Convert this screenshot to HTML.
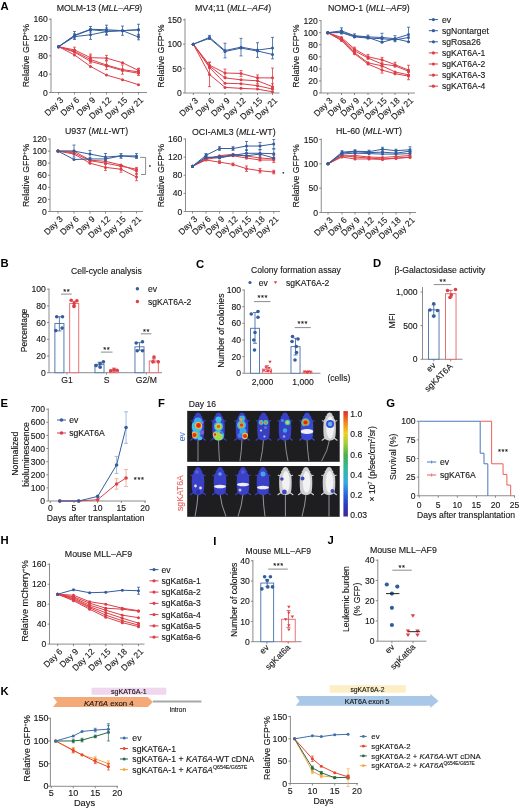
<!DOCTYPE html>
<html><head><meta charset="utf-8"><style>
html,body{margin:0;padding:0;background:#fff;}
svg{display:block;font-family:"Liberation Sans",Arial,Helvetica,sans-serif;}
</style></head><body>
<svg width="520" height="808" viewBox="0 0 520 808">
<rect width="520" height="808" fill="#fff"/>
<text x="0.60" y="9.50" font-size="11.3" fill="#000" font-weight="bold">A</text>
<text x="56.70" y="11.40" font-size="8.8" fill="#151515" stroke="#151515" stroke-width="0.12">MOLM-13 (<tspan font-style="italic">MLL–AF9</tspan>)</text>
<line x1="51.00" y1="92.50" x2="51.00" y2="18.50" stroke="#6d6e71" stroke-width="0.8" />
<line x1="49.00" y1="92.50" x2="51.00" y2="92.50" stroke="#6d6e71" stroke-width="0.8" />
<text x="47.80" y="95.60" font-size="8.6" fill="#151515" stroke="#151515" stroke-width="0.12" text-anchor="end">0</text>
<line x1="49.00" y1="74.17" x2="51.00" y2="74.17" stroke="#6d6e71" stroke-width="0.8" />
<text x="47.80" y="77.27" font-size="8.6" fill="#151515" stroke="#151515" stroke-width="0.12" text-anchor="end">40</text>
<line x1="49.00" y1="55.85" x2="51.00" y2="55.85" stroke="#6d6e71" stroke-width="0.8" />
<text x="47.80" y="58.95" font-size="8.6" fill="#151515" stroke="#151515" stroke-width="0.12" text-anchor="end">80</text>
<line x1="49.00" y1="37.52" x2="51.00" y2="37.52" stroke="#6d6e71" stroke-width="0.8" />
<text x="47.80" y="40.62" font-size="8.6" fill="#151515" stroke="#151515" stroke-width="0.12" text-anchor="end">120</text>
<line x1="49.00" y1="19.20" x2="51.00" y2="19.20" stroke="#6d6e71" stroke-width="0.8" />
<text x="47.80" y="22.30" font-size="8.6" fill="#151515" stroke="#151515" stroke-width="0.12" text-anchor="end">160</text>
<line x1="51.00" y1="92.50" x2="147.00" y2="92.50" stroke="#6d6e71" stroke-width="0.8" />
<line x1="58.60" y1="92.50" x2="58.60" y2="94.50" stroke="#6d6e71" stroke-width="0.8" />
<text transform="translate(63.90,100.60) rotate(-45)" font-size="8.6" fill="#151515" stroke="#151515" stroke-width="0.12" text-anchor="end">Day 3</text>
<line x1="74.50" y1="92.50" x2="74.50" y2="94.50" stroke="#6d6e71" stroke-width="0.8" />
<text transform="translate(79.80,100.60) rotate(-45)" font-size="8.6" fill="#151515" stroke="#151515" stroke-width="0.12" text-anchor="end">Day 6</text>
<line x1="90.50" y1="92.50" x2="90.50" y2="94.50" stroke="#6d6e71" stroke-width="0.8" />
<text transform="translate(95.80,100.60) rotate(-45)" font-size="8.6" fill="#151515" stroke="#151515" stroke-width="0.12" text-anchor="end">Day 9</text>
<line x1="106.50" y1="92.50" x2="106.50" y2="94.50" stroke="#6d6e71" stroke-width="0.8" />
<text transform="translate(111.80,100.60) rotate(-45)" font-size="8.6" fill="#151515" stroke="#151515" stroke-width="0.12" text-anchor="end">Day 12</text>
<line x1="122.50" y1="92.50" x2="122.50" y2="94.50" stroke="#6d6e71" stroke-width="0.8" />
<text transform="translate(127.80,100.60) rotate(-45)" font-size="8.6" fill="#151515" stroke="#151515" stroke-width="0.12" text-anchor="end">Day 15</text>
<line x1="138.50" y1="92.50" x2="138.50" y2="94.50" stroke="#6d6e71" stroke-width="0.8" />
<text transform="translate(143.80,100.60) rotate(-45)" font-size="8.6" fill="#151515" stroke="#151515" stroke-width="0.12" text-anchor="end">Day 21</text>
<polyline points="58.60,46.69 74.50,49.89 90.50,57.68 106.50,58.14 122.50,62.72 138.50,70.51" fill="none" stroke="#dc3f48" stroke-width="1.0" stroke-linejoin="round" />
<line x1="74.50" y1="47.15" x2="74.50" y2="52.64" stroke="#dc3f48" stroke-width="0.8" />
<line x1="73.00" y1="47.15" x2="76.00" y2="47.15" stroke="#dc3f48" stroke-width="0.8" />
<line x1="73.00" y1="52.64" x2="76.00" y2="52.64" stroke="#dc3f48" stroke-width="0.8" />
<line x1="90.50" y1="54.02" x2="90.50" y2="61.35" stroke="#dc3f48" stroke-width="0.8" />
<line x1="89.00" y1="54.02" x2="92.00" y2="54.02" stroke="#dc3f48" stroke-width="0.8" />
<line x1="89.00" y1="61.35" x2="92.00" y2="61.35" stroke="#dc3f48" stroke-width="0.8" />
<line x1="106.50" y1="55.39" x2="106.50" y2="60.89" stroke="#dc3f48" stroke-width="0.8" />
<line x1="105.00" y1="55.39" x2="108.00" y2="55.39" stroke="#dc3f48" stroke-width="0.8" />
<line x1="105.00" y1="60.89" x2="108.00" y2="60.89" stroke="#dc3f48" stroke-width="0.8" />
<line x1="138.50" y1="68.68" x2="138.50" y2="72.34" stroke="#dc3f48" stroke-width="0.8" />
<line x1="137.00" y1="68.68" x2="140.00" y2="68.68" stroke="#dc3f48" stroke-width="0.8" />
<line x1="137.00" y1="72.34" x2="140.00" y2="72.34" stroke="#dc3f48" stroke-width="0.8" />
<circle cx="58.60" cy="46.69" r="1.5" fill="#dc3f48" />
<circle cx="74.50" cy="49.89" r="1.5" fill="#dc3f48" />
<circle cx="90.50" cy="57.68" r="1.5" fill="#dc3f48" />
<circle cx="106.50" cy="58.14" r="1.5" fill="#dc3f48" />
<circle cx="122.50" cy="62.72" r="1.5" fill="#dc3f48" />
<circle cx="138.50" cy="70.51" r="1.5" fill="#dc3f48" />
<polyline points="58.60,46.69 74.50,51.27 90.50,59.52 106.50,65.01 122.50,69.59 138.50,71.88" fill="none" stroke="#dc3f48" stroke-width="1.0" stroke-linejoin="round" />
<line x1="90.50" y1="55.85" x2="90.50" y2="63.18" stroke="#dc3f48" stroke-width="0.8" />
<line x1="89.00" y1="55.85" x2="92.00" y2="55.85" stroke="#dc3f48" stroke-width="0.8" />
<line x1="89.00" y1="63.18" x2="92.00" y2="63.18" stroke="#dc3f48" stroke-width="0.8" />
<line x1="106.50" y1="60.43" x2="106.50" y2="69.59" stroke="#dc3f48" stroke-width="0.8" />
<line x1="105.00" y1="60.43" x2="108.00" y2="60.43" stroke="#dc3f48" stroke-width="0.8" />
<line x1="105.00" y1="69.59" x2="108.00" y2="69.59" stroke="#dc3f48" stroke-width="0.8" />
<line x1="122.50" y1="65.01" x2="122.50" y2="74.17" stroke="#dc3f48" stroke-width="0.8" />
<line x1="121.00" y1="65.01" x2="124.00" y2="65.01" stroke="#dc3f48" stroke-width="0.8" />
<line x1="121.00" y1="74.17" x2="124.00" y2="74.17" stroke="#dc3f48" stroke-width="0.8" />
<line x1="138.50" y1="68.22" x2="138.50" y2="75.55" stroke="#dc3f48" stroke-width="0.8" />
<line x1="137.00" y1="68.22" x2="140.00" y2="68.22" stroke="#dc3f48" stroke-width="0.8" />
<line x1="137.00" y1="75.55" x2="140.00" y2="75.55" stroke="#dc3f48" stroke-width="0.8" />
<circle cx="58.60" cy="46.69" r="1.5" fill="#dc3f48" />
<circle cx="74.50" cy="51.27" r="1.5" fill="#dc3f48" />
<circle cx="90.50" cy="59.52" r="1.5" fill="#dc3f48" />
<circle cx="106.50" cy="65.01" r="1.5" fill="#dc3f48" />
<circle cx="122.50" cy="69.59" r="1.5" fill="#dc3f48" />
<circle cx="138.50" cy="71.88" r="1.5" fill="#dc3f48" />
<polyline points="58.60,46.69 74.50,52.19 90.50,61.35 106.50,65.93 122.50,70.51 138.50,73.26" fill="none" stroke="#dc3f48" stroke-width="1.0" stroke-linejoin="round" />
<circle cx="58.60" cy="46.69" r="1.5" fill="#dc3f48" />
<circle cx="74.50" cy="52.19" r="1.5" fill="#dc3f48" />
<circle cx="90.50" cy="61.35" r="1.5" fill="#dc3f48" />
<circle cx="106.50" cy="65.93" r="1.5" fill="#dc3f48" />
<circle cx="122.50" cy="70.51" r="1.5" fill="#dc3f48" />
<circle cx="138.50" cy="73.26" r="1.5" fill="#dc3f48" />
<polyline points="58.60,46.69 74.50,54.93 90.50,66.39 106.50,75.09 122.50,79.67 138.50,84.71" fill="none" stroke="#dc3f48" stroke-width="1.0" stroke-linejoin="round" />
<circle cx="58.60" cy="46.69" r="1.5" fill="#dc3f48" />
<circle cx="74.50" cy="54.93" r="1.5" fill="#dc3f48" />
<circle cx="90.50" cy="66.39" r="1.5" fill="#dc3f48" />
<circle cx="106.50" cy="75.09" r="1.5" fill="#dc3f48" />
<circle cx="122.50" cy="79.67" r="1.5" fill="#dc3f48" />
<circle cx="138.50" cy="84.71" r="1.5" fill="#dc3f48" />
<polyline points="58.60,46.69 74.50,35.23 90.50,29.28 106.50,29.74 122.50,30.65 138.50,29.74" fill="none" stroke="#345d9d" stroke-width="1.0" stroke-linejoin="round" />
<line x1="74.50" y1="31.57" x2="74.50" y2="38.90" stroke="#345d9d" stroke-width="0.8" />
<line x1="73.00" y1="31.57" x2="76.00" y2="31.57" stroke="#345d9d" stroke-width="0.8" />
<line x1="73.00" y1="38.90" x2="76.00" y2="38.90" stroke="#345d9d" stroke-width="0.8" />
<line x1="90.50" y1="26.53" x2="90.50" y2="32.03" stroke="#345d9d" stroke-width="0.8" />
<line x1="89.00" y1="26.53" x2="92.00" y2="26.53" stroke="#345d9d" stroke-width="0.8" />
<line x1="89.00" y1="32.03" x2="92.00" y2="32.03" stroke="#345d9d" stroke-width="0.8" />
<line x1="106.50" y1="25.16" x2="106.50" y2="34.32" stroke="#345d9d" stroke-width="0.8" />
<line x1="105.00" y1="25.16" x2="108.00" y2="25.16" stroke="#345d9d" stroke-width="0.8" />
<line x1="105.00" y1="34.32" x2="108.00" y2="34.32" stroke="#345d9d" stroke-width="0.8" />
<line x1="122.50" y1="26.07" x2="122.50" y2="35.23" stroke="#345d9d" stroke-width="0.8" />
<line x1="121.00" y1="26.07" x2="124.00" y2="26.07" stroke="#345d9d" stroke-width="0.8" />
<line x1="121.00" y1="35.23" x2="124.00" y2="35.23" stroke="#345d9d" stroke-width="0.8" />
<line x1="138.50" y1="24.24" x2="138.50" y2="35.23" stroke="#345d9d" stroke-width="0.8" />
<line x1="137.00" y1="24.24" x2="140.00" y2="24.24" stroke="#345d9d" stroke-width="0.8" />
<line x1="137.00" y1="35.23" x2="140.00" y2="35.23" stroke="#345d9d" stroke-width="0.8" />
<circle cx="58.60" cy="46.69" r="1.5" fill="#345d9d" />
<circle cx="74.50" cy="35.23" r="1.5" fill="#345d9d" />
<circle cx="90.50" cy="29.28" r="1.5" fill="#345d9d" />
<circle cx="106.50" cy="29.74" r="1.5" fill="#345d9d" />
<circle cx="122.50" cy="30.65" r="1.5" fill="#345d9d" />
<circle cx="138.50" cy="29.74" r="1.5" fill="#345d9d" />
<polyline points="58.60,46.69 74.50,36.61 90.50,34.78 106.50,31.57 122.50,30.65 138.50,37.07" fill="none" stroke="#345d9d" stroke-width="1.0" stroke-linejoin="round" />
<line x1="74.50" y1="33.86" x2="74.50" y2="39.36" stroke="#345d9d" stroke-width="0.8" />
<line x1="73.00" y1="33.86" x2="76.00" y2="33.86" stroke="#345d9d" stroke-width="0.8" />
<line x1="73.00" y1="39.36" x2="76.00" y2="39.36" stroke="#345d9d" stroke-width="0.8" />
<line x1="90.50" y1="30.20" x2="90.50" y2="39.36" stroke="#345d9d" stroke-width="0.8" />
<line x1="89.00" y1="30.20" x2="92.00" y2="30.20" stroke="#345d9d" stroke-width="0.8" />
<line x1="89.00" y1="39.36" x2="92.00" y2="39.36" stroke="#345d9d" stroke-width="0.8" />
<line x1="106.50" y1="27.90" x2="106.50" y2="35.23" stroke="#345d9d" stroke-width="0.8" />
<line x1="105.00" y1="27.90" x2="108.00" y2="27.90" stroke="#345d9d" stroke-width="0.8" />
<line x1="105.00" y1="35.23" x2="108.00" y2="35.23" stroke="#345d9d" stroke-width="0.8" />
<line x1="138.50" y1="34.32" x2="138.50" y2="39.82" stroke="#345d9d" stroke-width="0.8" />
<line x1="137.00" y1="34.32" x2="140.00" y2="34.32" stroke="#345d9d" stroke-width="0.8" />
<line x1="137.00" y1="39.82" x2="140.00" y2="39.82" stroke="#345d9d" stroke-width="0.8" />
<circle cx="58.60" cy="46.69" r="1.5" fill="#345d9d" />
<circle cx="74.50" cy="36.61" r="1.5" fill="#345d9d" />
<circle cx="90.50" cy="34.78" r="1.5" fill="#345d9d" />
<circle cx="106.50" cy="31.57" r="1.5" fill="#345d9d" />
<circle cx="122.50" cy="30.65" r="1.5" fill="#345d9d" />
<circle cx="138.50" cy="37.07" r="1.5" fill="#345d9d" />
<polyline points="58.60,46.69 74.50,35.69 90.50,29.74 106.50,31.11 122.50,30.65 138.50,29.74" fill="none" stroke="#345d9d" stroke-width="1.0" stroke-linejoin="round" />
<circle cx="58.60" cy="46.69" r="1.5" fill="#345d9d" />
<circle cx="74.50" cy="35.69" r="1.5" fill="#345d9d" />
<circle cx="90.50" cy="29.74" r="1.5" fill="#345d9d" />
<circle cx="106.50" cy="31.11" r="1.5" fill="#345d9d" />
<circle cx="122.50" cy="30.65" r="1.5" fill="#345d9d" />
<circle cx="138.50" cy="29.74" r="1.5" fill="#345d9d" />
<text transform="translate(29.00,55.60) rotate(-90)" font-size="8.8" fill="#151515" stroke="#151515" stroke-width="0.12" text-anchor="middle">Relative GFP<tspan font-size="5.5" dy="-3">+</tspan><tspan dy="3">%</tspan></text>
<text x="195.00" y="11.40" font-size="8.8" fill="#151515" stroke="#151515" stroke-width="0.12">MV4;11 (<tspan font-style="italic">MLL–AF4</tspan>)</text>
<line x1="185.00" y1="93.00" x2="185.00" y2="18.50" stroke="#6d6e71" stroke-width="0.8" />
<line x1="183.00" y1="93.00" x2="185.00" y2="93.00" stroke="#6d6e71" stroke-width="0.8" />
<text x="181.80" y="96.10" font-size="8.6" fill="#151515" stroke="#151515" stroke-width="0.12" text-anchor="end">0</text>
<line x1="183.00" y1="68.60" x2="185.00" y2="68.60" stroke="#6d6e71" stroke-width="0.8" />
<text x="181.80" y="71.70" font-size="8.6" fill="#151515" stroke="#151515" stroke-width="0.12" text-anchor="end">50</text>
<line x1="183.00" y1="44.20" x2="185.00" y2="44.20" stroke="#6d6e71" stroke-width="0.8" />
<text x="181.80" y="47.30" font-size="8.6" fill="#151515" stroke="#151515" stroke-width="0.12" text-anchor="end">100</text>
<line x1="183.00" y1="19.80" x2="185.00" y2="19.80" stroke="#6d6e71" stroke-width="0.8" />
<text x="181.80" y="22.90" font-size="8.6" fill="#151515" stroke="#151515" stroke-width="0.12" text-anchor="end">150</text>
<line x1="185.00" y1="93.00" x2="279.50" y2="93.00" stroke="#6d6e71" stroke-width="0.8" />
<line x1="193.30" y1="93.00" x2="193.30" y2="95.00" stroke="#6d6e71" stroke-width="0.8" />
<text transform="translate(198.60,101.10) rotate(-45)" font-size="8.6" fill="#151515" stroke="#151515" stroke-width="0.12" text-anchor="end">Day 3</text>
<line x1="209.50" y1="93.00" x2="209.50" y2="95.00" stroke="#6d6e71" stroke-width="0.8" />
<text transform="translate(214.80,101.10) rotate(-45)" font-size="8.6" fill="#151515" stroke="#151515" stroke-width="0.12" text-anchor="end">Day 6</text>
<line x1="225.00" y1="93.00" x2="225.00" y2="95.00" stroke="#6d6e71" stroke-width="0.8" />
<text transform="translate(230.30,101.10) rotate(-45)" font-size="8.6" fill="#151515" stroke="#151515" stroke-width="0.12" text-anchor="end">Day 9</text>
<line x1="241.00" y1="93.00" x2="241.00" y2="95.00" stroke="#6d6e71" stroke-width="0.8" />
<text transform="translate(246.30,101.10) rotate(-45)" font-size="8.6" fill="#151515" stroke="#151515" stroke-width="0.12" text-anchor="end">Day 12</text>
<line x1="257.50" y1="93.00" x2="257.50" y2="95.00" stroke="#6d6e71" stroke-width="0.8" />
<text transform="translate(262.80,101.10) rotate(-45)" font-size="8.6" fill="#151515" stroke="#151515" stroke-width="0.12" text-anchor="end">Day 15</text>
<line x1="272.50" y1="93.00" x2="272.50" y2="95.00" stroke="#6d6e71" stroke-width="0.8" />
<text transform="translate(277.80,101.10) rotate(-45)" font-size="8.6" fill="#151515" stroke="#151515" stroke-width="0.12" text-anchor="end">Day 21</text>
<polyline points="193.30,44.20 209.50,65.18 225.00,72.99 241.00,73.48 257.50,77.87 272.50,77.87" fill="none" stroke="#dc3f48" stroke-width="1.0" stroke-linejoin="round" />
<line x1="209.50" y1="62.26" x2="209.50" y2="68.11" stroke="#dc3f48" stroke-width="0.8" />
<line x1="208.00" y1="62.26" x2="211.00" y2="62.26" stroke="#dc3f48" stroke-width="0.8" />
<line x1="208.00" y1="68.11" x2="211.00" y2="68.11" stroke="#dc3f48" stroke-width="0.8" />
<line x1="225.00" y1="69.09" x2="225.00" y2="76.90" stroke="#dc3f48" stroke-width="0.8" />
<line x1="223.50" y1="69.09" x2="226.50" y2="69.09" stroke="#dc3f48" stroke-width="0.8" />
<line x1="223.50" y1="76.90" x2="226.50" y2="76.90" stroke="#dc3f48" stroke-width="0.8" />
<line x1="241.00" y1="70.55" x2="241.00" y2="76.41" stroke="#dc3f48" stroke-width="0.8" />
<line x1="239.50" y1="70.55" x2="242.50" y2="70.55" stroke="#dc3f48" stroke-width="0.8" />
<line x1="239.50" y1="76.41" x2="242.50" y2="76.41" stroke="#dc3f48" stroke-width="0.8" />
<line x1="257.50" y1="74.94" x2="257.50" y2="80.80" stroke="#dc3f48" stroke-width="0.8" />
<line x1="256.00" y1="74.94" x2="259.00" y2="74.94" stroke="#dc3f48" stroke-width="0.8" />
<line x1="256.00" y1="80.80" x2="259.00" y2="80.80" stroke="#dc3f48" stroke-width="0.8" />
<line x1="272.50" y1="68.11" x2="272.50" y2="87.63" stroke="#dc3f48" stroke-width="0.8" />
<line x1="271.00" y1="68.11" x2="274.00" y2="68.11" stroke="#dc3f48" stroke-width="0.8" />
<line x1="271.00" y1="87.63" x2="274.00" y2="87.63" stroke="#dc3f48" stroke-width="0.8" />
<circle cx="193.30" cy="44.20" r="1.5" fill="#dc3f48" />
<circle cx="209.50" cy="65.18" r="1.5" fill="#dc3f48" />
<circle cx="225.00" cy="72.99" r="1.5" fill="#dc3f48" />
<circle cx="241.00" cy="73.48" r="1.5" fill="#dc3f48" />
<circle cx="257.50" cy="77.87" r="1.5" fill="#dc3f48" />
<circle cx="272.50" cy="77.87" r="1.5" fill="#dc3f48" />
<polyline points="193.30,44.20 209.50,66.16 225.00,77.87 241.00,79.82 257.50,80.80 272.50,86.66" fill="none" stroke="#dc3f48" stroke-width="1.0" stroke-linejoin="round" />
<line x1="257.50" y1="77.87" x2="257.50" y2="83.73" stroke="#dc3f48" stroke-width="0.8" />
<line x1="256.00" y1="77.87" x2="259.00" y2="77.87" stroke="#dc3f48" stroke-width="0.8" />
<line x1="256.00" y1="83.73" x2="259.00" y2="83.73" stroke="#dc3f48" stroke-width="0.8" />
<line x1="272.50" y1="83.73" x2="272.50" y2="89.58" stroke="#dc3f48" stroke-width="0.8" />
<line x1="271.00" y1="83.73" x2="274.00" y2="83.73" stroke="#dc3f48" stroke-width="0.8" />
<line x1="271.00" y1="89.58" x2="274.00" y2="89.58" stroke="#dc3f48" stroke-width="0.8" />
<circle cx="193.30" cy="44.20" r="1.5" fill="#dc3f48" />
<circle cx="209.50" cy="66.16" r="1.5" fill="#dc3f48" />
<circle cx="225.00" cy="77.87" r="1.5" fill="#dc3f48" />
<circle cx="241.00" cy="79.82" r="1.5" fill="#dc3f48" />
<circle cx="257.50" cy="80.80" r="1.5" fill="#dc3f48" />
<circle cx="272.50" cy="86.66" r="1.5" fill="#dc3f48" />
<polyline points="193.30,44.20 209.50,67.62 225.00,83.24 241.00,83.73 257.50,85.68 272.50,89.10" fill="none" stroke="#dc3f48" stroke-width="1.0" stroke-linejoin="round" />
<circle cx="193.30" cy="44.20" r="1.5" fill="#dc3f48" />
<circle cx="209.50" cy="67.62" r="1.5" fill="#dc3f48" />
<circle cx="225.00" cy="83.24" r="1.5" fill="#dc3f48" />
<circle cx="241.00" cy="83.73" r="1.5" fill="#dc3f48" />
<circle cx="257.50" cy="85.68" r="1.5" fill="#dc3f48" />
<circle cx="272.50" cy="89.10" r="1.5" fill="#dc3f48" />
<polyline points="193.30,44.20 209.50,74.46 225.00,87.39 241.00,88.36 257.50,89.10 272.50,91.78" fill="none" stroke="#dc3f48" stroke-width="1.0" stroke-linejoin="round" />
<line x1="209.50" y1="62.26" x2="209.50" y2="86.66" stroke="#dc3f48" stroke-width="0.8" />
<line x1="208.00" y1="62.26" x2="211.00" y2="62.26" stroke="#dc3f48" stroke-width="0.8" />
<line x1="208.00" y1="86.66" x2="211.00" y2="86.66" stroke="#dc3f48" stroke-width="0.8" />
<circle cx="193.30" cy="44.20" r="1.5" fill="#dc3f48" />
<circle cx="209.50" cy="74.46" r="1.5" fill="#dc3f48" />
<circle cx="225.00" cy="87.39" r="1.5" fill="#dc3f48" />
<circle cx="241.00" cy="88.36" r="1.5" fill="#dc3f48" />
<circle cx="257.50" cy="89.10" r="1.5" fill="#dc3f48" />
<circle cx="272.50" cy="91.78" r="1.5" fill="#dc3f48" />
<polyline points="193.30,44.20 209.50,37.37 225.00,50.54 241.00,47.13 257.50,50.06 272.50,48.10" fill="none" stroke="#345d9d" stroke-width="1.0" stroke-linejoin="round" />
<line x1="209.50" y1="35.42" x2="209.50" y2="39.32" stroke="#345d9d" stroke-width="0.8" />
<line x1="208.00" y1="35.42" x2="211.00" y2="35.42" stroke="#345d9d" stroke-width="0.8" />
<line x1="208.00" y1="39.32" x2="211.00" y2="39.32" stroke="#345d9d" stroke-width="0.8" />
<line x1="225.00" y1="43.22" x2="225.00" y2="57.86" stroke="#345d9d" stroke-width="0.8" />
<line x1="223.50" y1="43.22" x2="226.50" y2="43.22" stroke="#345d9d" stroke-width="0.8" />
<line x1="223.50" y1="57.86" x2="226.50" y2="57.86" stroke="#345d9d" stroke-width="0.8" />
<line x1="241.00" y1="38.34" x2="241.00" y2="55.91" stroke="#345d9d" stroke-width="0.8" />
<line x1="239.50" y1="38.34" x2="242.50" y2="38.34" stroke="#345d9d" stroke-width="0.8" />
<line x1="239.50" y1="55.91" x2="242.50" y2="55.91" stroke="#345d9d" stroke-width="0.8" />
<line x1="257.50" y1="42.74" x2="257.50" y2="57.38" stroke="#345d9d" stroke-width="0.8" />
<line x1="256.00" y1="42.74" x2="259.00" y2="42.74" stroke="#345d9d" stroke-width="0.8" />
<line x1="256.00" y1="57.38" x2="259.00" y2="57.38" stroke="#345d9d" stroke-width="0.8" />
<line x1="272.50" y1="37.37" x2="272.50" y2="58.84" stroke="#345d9d" stroke-width="0.8" />
<line x1="271.00" y1="37.37" x2="274.00" y2="37.37" stroke="#345d9d" stroke-width="0.8" />
<line x1="271.00" y1="58.84" x2="274.00" y2="58.84" stroke="#345d9d" stroke-width="0.8" />
<circle cx="193.30" cy="44.20" r="1.5" fill="#345d9d" />
<circle cx="209.50" cy="37.37" r="1.5" fill="#345d9d" />
<circle cx="225.00" cy="50.54" r="1.5" fill="#345d9d" />
<circle cx="241.00" cy="47.13" r="1.5" fill="#345d9d" />
<circle cx="257.50" cy="50.06" r="1.5" fill="#345d9d" />
<circle cx="272.50" cy="48.10" r="1.5" fill="#345d9d" />
<polyline points="193.30,44.20 209.50,38.34 225.00,51.52 241.00,48.10 257.50,51.03 272.50,54.45" fill="none" stroke="#345d9d" stroke-width="1.0" stroke-linejoin="round" />
<circle cx="193.30" cy="44.20" r="1.5" fill="#345d9d" />
<circle cx="209.50" cy="38.34" r="1.5" fill="#345d9d" />
<circle cx="225.00" cy="51.52" r="1.5" fill="#345d9d" />
<circle cx="241.00" cy="48.10" r="1.5" fill="#345d9d" />
<circle cx="257.50" cy="51.03" r="1.5" fill="#345d9d" />
<circle cx="272.50" cy="54.45" r="1.5" fill="#345d9d" />
<text transform="translate(163.80,56.00) rotate(-90)" font-size="8.8" fill="#151515" stroke="#151515" stroke-width="0.12" text-anchor="middle">Relative GFP<tspan font-size="5.5" dy="-3">+</tspan><tspan dy="3">%</tspan></text>
<text x="328.00" y="11.40" font-size="8.8" fill="#151515" stroke="#151515" stroke-width="0.12">NOMO-1 (<tspan font-style="italic">MLL–AF9</tspan>)</text>
<line x1="321.00" y1="93.00" x2="321.00" y2="20.00" stroke="#6d6e71" stroke-width="0.8" />
<line x1="319.00" y1="93.00" x2="321.00" y2="93.00" stroke="#6d6e71" stroke-width="0.8" />
<text x="317.80" y="96.10" font-size="8.6" fill="#151515" stroke="#151515" stroke-width="0.12" text-anchor="end">0</text>
<line x1="319.00" y1="80.93" x2="321.00" y2="80.93" stroke="#6d6e71" stroke-width="0.8" />
<text x="317.80" y="84.03" font-size="8.6" fill="#151515" stroke="#151515" stroke-width="0.12" text-anchor="end">20</text>
<line x1="319.00" y1="68.87" x2="321.00" y2="68.87" stroke="#6d6e71" stroke-width="0.8" />
<text x="317.80" y="71.97" font-size="8.6" fill="#151515" stroke="#151515" stroke-width="0.12" text-anchor="end">40</text>
<line x1="319.00" y1="56.80" x2="321.00" y2="56.80" stroke="#6d6e71" stroke-width="0.8" />
<text x="317.80" y="59.90" font-size="8.6" fill="#151515" stroke="#151515" stroke-width="0.12" text-anchor="end">60</text>
<line x1="319.00" y1="44.73" x2="321.00" y2="44.73" stroke="#6d6e71" stroke-width="0.8" />
<text x="317.80" y="47.83" font-size="8.6" fill="#151515" stroke="#151515" stroke-width="0.12" text-anchor="end">80</text>
<line x1="319.00" y1="32.67" x2="321.00" y2="32.67" stroke="#6d6e71" stroke-width="0.8" />
<text x="317.80" y="35.77" font-size="8.6" fill="#151515" stroke="#151515" stroke-width="0.12" text-anchor="end">100</text>
<line x1="319.00" y1="20.60" x2="321.00" y2="20.60" stroke="#6d6e71" stroke-width="0.8" />
<text x="317.80" y="23.70" font-size="8.6" fill="#151515" stroke="#151515" stroke-width="0.12" text-anchor="end">120</text>
<line x1="321.00" y1="93.00" x2="415.00" y2="93.00" stroke="#6d6e71" stroke-width="0.8" />
<line x1="327.80" y1="93.00" x2="327.80" y2="95.00" stroke="#6d6e71" stroke-width="0.8" />
<text transform="translate(333.10,101.10) rotate(-45)" font-size="8.6" fill="#151515" stroke="#151515" stroke-width="0.12" text-anchor="end">Day 3</text>
<line x1="341.50" y1="93.00" x2="341.50" y2="95.00" stroke="#6d6e71" stroke-width="0.8" />
<text transform="translate(346.80,101.10) rotate(-45)" font-size="8.6" fill="#151515" stroke="#151515" stroke-width="0.12" text-anchor="end">Day 6</text>
<line x1="354.50" y1="93.00" x2="354.50" y2="95.00" stroke="#6d6e71" stroke-width="0.8" />
<text transform="translate(359.80,101.10) rotate(-45)" font-size="8.6" fill="#151515" stroke="#151515" stroke-width="0.12" text-anchor="end">Day 9</text>
<line x1="368.00" y1="93.00" x2="368.00" y2="95.00" stroke="#6d6e71" stroke-width="0.8" />
<text transform="translate(373.30,101.10) rotate(-45)" font-size="8.6" fill="#151515" stroke="#151515" stroke-width="0.12" text-anchor="end">Day 12</text>
<line x1="382.00" y1="93.00" x2="382.00" y2="95.00" stroke="#6d6e71" stroke-width="0.8" />
<text transform="translate(387.30,101.10) rotate(-45)" font-size="8.6" fill="#151515" stroke="#151515" stroke-width="0.12" text-anchor="end">Day 15</text>
<line x1="395.00" y1="93.00" x2="395.00" y2="95.00" stroke="#6d6e71" stroke-width="0.8" />
<text transform="translate(400.30,101.10) rotate(-45)" font-size="8.6" fill="#151515" stroke="#151515" stroke-width="0.12" text-anchor="end">Day 18</text>
<line x1="408.50" y1="93.00" x2="408.50" y2="95.00" stroke="#6d6e71" stroke-width="0.8" />
<text transform="translate(413.80,101.10) rotate(-45)" font-size="8.6" fill="#151515" stroke="#151515" stroke-width="0.12" text-anchor="end">Day 21</text>
<polyline points="327.80,32.67 341.50,37.49 354.50,48.96 368.00,56.80 382.00,59.82 395.00,64.64 408.50,70.07" fill="none" stroke="#dc3f48" stroke-width="1.0" stroke-linejoin="round" />
<line x1="354.50" y1="47.15" x2="354.50" y2="50.77" stroke="#dc3f48" stroke-width="0.8" />
<line x1="353.00" y1="47.15" x2="356.00" y2="47.15" stroke="#dc3f48" stroke-width="0.8" />
<line x1="353.00" y1="50.77" x2="356.00" y2="50.77" stroke="#dc3f48" stroke-width="0.8" />
<line x1="368.00" y1="54.39" x2="368.00" y2="59.21" stroke="#dc3f48" stroke-width="0.8" />
<line x1="366.50" y1="54.39" x2="369.50" y2="54.39" stroke="#dc3f48" stroke-width="0.8" />
<line x1="366.50" y1="59.21" x2="369.50" y2="59.21" stroke="#dc3f48" stroke-width="0.8" />
<line x1="382.00" y1="57.40" x2="382.00" y2="62.23" stroke="#dc3f48" stroke-width="0.8" />
<line x1="380.50" y1="57.40" x2="383.50" y2="57.40" stroke="#dc3f48" stroke-width="0.8" />
<line x1="380.50" y1="62.23" x2="383.50" y2="62.23" stroke="#dc3f48" stroke-width="0.8" />
<line x1="395.00" y1="62.23" x2="395.00" y2="67.06" stroke="#dc3f48" stroke-width="0.8" />
<line x1="393.50" y1="62.23" x2="396.50" y2="62.23" stroke="#dc3f48" stroke-width="0.8" />
<line x1="393.50" y1="67.06" x2="396.50" y2="67.06" stroke="#dc3f48" stroke-width="0.8" />
<line x1="408.50" y1="65.25" x2="408.50" y2="74.90" stroke="#dc3f48" stroke-width="0.8" />
<line x1="407.00" y1="65.25" x2="410.00" y2="65.25" stroke="#dc3f48" stroke-width="0.8" />
<line x1="407.00" y1="74.90" x2="410.00" y2="74.90" stroke="#dc3f48" stroke-width="0.8" />
<circle cx="327.80" cy="32.67" r="1.5" fill="#dc3f48" />
<circle cx="341.50" cy="37.49" r="1.5" fill="#dc3f48" />
<circle cx="354.50" cy="48.96" r="1.5" fill="#dc3f48" />
<circle cx="368.00" cy="56.80" r="1.5" fill="#dc3f48" />
<circle cx="382.00" cy="59.82" r="1.5" fill="#dc3f48" />
<circle cx="395.00" cy="64.64" r="1.5" fill="#dc3f48" />
<circle cx="408.50" cy="70.07" r="1.5" fill="#dc3f48" />
<polyline points="327.80,32.67 341.50,38.70 354.50,50.77 368.00,58.01 382.00,64.04 395.00,65.85 408.50,71.28" fill="none" stroke="#dc3f48" stroke-width="1.0" stroke-linejoin="round" />
<circle cx="327.80" cy="32.67" r="1.5" fill="#dc3f48" />
<circle cx="341.50" cy="38.70" r="1.5" fill="#dc3f48" />
<circle cx="354.50" cy="50.77" r="1.5" fill="#dc3f48" />
<circle cx="368.00" cy="58.01" r="1.5" fill="#dc3f48" />
<circle cx="382.00" cy="64.04" r="1.5" fill="#dc3f48" />
<circle cx="395.00" cy="65.85" r="1.5" fill="#dc3f48" />
<circle cx="408.50" cy="71.28" r="1.5" fill="#dc3f48" />
<polyline points="327.80,32.67 341.50,39.91 354.50,52.58 368.00,62.83 382.00,65.85 395.00,71.88 408.50,74.90" fill="none" stroke="#dc3f48" stroke-width="1.0" stroke-linejoin="round" />
<circle cx="327.80" cy="32.67" r="1.5" fill="#dc3f48" />
<circle cx="341.50" cy="39.91" r="1.5" fill="#dc3f48" />
<circle cx="354.50" cy="52.58" r="1.5" fill="#dc3f48" />
<circle cx="368.00" cy="62.83" r="1.5" fill="#dc3f48" />
<circle cx="382.00" cy="65.85" r="1.5" fill="#dc3f48" />
<circle cx="395.00" cy="71.88" r="1.5" fill="#dc3f48" />
<circle cx="408.50" cy="74.90" r="1.5" fill="#dc3f48" />
<polyline points="327.80,32.67 341.50,40.51 354.50,53.78 368.00,64.04 382.00,70.07 395.00,73.69 408.50,76.11" fill="none" stroke="#dc3f48" stroke-width="1.0" stroke-linejoin="round" />
<line x1="382.00" y1="67.06" x2="382.00" y2="73.09" stroke="#dc3f48" stroke-width="0.8" />
<line x1="380.50" y1="67.06" x2="383.50" y2="67.06" stroke="#dc3f48" stroke-width="0.8" />
<line x1="380.50" y1="73.09" x2="383.50" y2="73.09" stroke="#dc3f48" stroke-width="0.8" />
<line x1="408.50" y1="72.49" x2="408.50" y2="79.73" stroke="#dc3f48" stroke-width="0.8" />
<line x1="407.00" y1="72.49" x2="410.00" y2="72.49" stroke="#dc3f48" stroke-width="0.8" />
<line x1="407.00" y1="79.73" x2="410.00" y2="79.73" stroke="#dc3f48" stroke-width="0.8" />
<circle cx="327.80" cy="32.67" r="1.5" fill="#dc3f48" />
<circle cx="341.50" cy="40.51" r="1.5" fill="#dc3f48" />
<circle cx="354.50" cy="53.78" r="1.5" fill="#dc3f48" />
<circle cx="368.00" cy="64.04" r="1.5" fill="#dc3f48" />
<circle cx="382.00" cy="70.07" r="1.5" fill="#dc3f48" />
<circle cx="395.00" cy="73.69" r="1.5" fill="#dc3f48" />
<circle cx="408.50" cy="76.11" r="1.5" fill="#dc3f48" />
<polyline points="327.80,32.67 341.50,30.86 354.50,35.68 368.00,36.89 382.00,37.49 395.00,38.70 408.50,34.48" fill="none" stroke="#345d9d" stroke-width="1.0" stroke-linejoin="round" />
<line x1="341.50" y1="27.84" x2="341.50" y2="33.87" stroke="#345d9d" stroke-width="0.8" />
<line x1="340.00" y1="27.84" x2="343.00" y2="27.84" stroke="#345d9d" stroke-width="0.8" />
<line x1="340.00" y1="33.87" x2="343.00" y2="33.87" stroke="#345d9d" stroke-width="0.8" />
<line x1="354.50" y1="33.87" x2="354.50" y2="37.49" stroke="#345d9d" stroke-width="0.8" />
<line x1="353.00" y1="33.87" x2="356.00" y2="33.87" stroke="#345d9d" stroke-width="0.8" />
<line x1="353.00" y1="37.49" x2="356.00" y2="37.49" stroke="#345d9d" stroke-width="0.8" />
<line x1="368.00" y1="35.08" x2="368.00" y2="38.70" stroke="#345d9d" stroke-width="0.8" />
<line x1="366.50" y1="35.08" x2="369.50" y2="35.08" stroke="#345d9d" stroke-width="0.8" />
<line x1="366.50" y1="38.70" x2="369.50" y2="38.70" stroke="#345d9d" stroke-width="0.8" />
<line x1="382.00" y1="33.27" x2="382.00" y2="41.72" stroke="#345d9d" stroke-width="0.8" />
<line x1="380.50" y1="33.27" x2="383.50" y2="33.27" stroke="#345d9d" stroke-width="0.8" />
<line x1="380.50" y1="41.72" x2="383.50" y2="41.72" stroke="#345d9d" stroke-width="0.8" />
<line x1="395.00" y1="35.68" x2="395.00" y2="41.72" stroke="#345d9d" stroke-width="0.8" />
<line x1="393.50" y1="35.68" x2="396.50" y2="35.68" stroke="#345d9d" stroke-width="0.8" />
<line x1="393.50" y1="41.72" x2="396.50" y2="41.72" stroke="#345d9d" stroke-width="0.8" />
<line x1="408.50" y1="27.24" x2="408.50" y2="41.72" stroke="#345d9d" stroke-width="0.8" />
<line x1="407.00" y1="27.24" x2="410.00" y2="27.24" stroke="#345d9d" stroke-width="0.8" />
<line x1="407.00" y1="41.72" x2="410.00" y2="41.72" stroke="#345d9d" stroke-width="0.8" />
<circle cx="327.80" cy="32.67" r="1.5" fill="#345d9d" />
<circle cx="341.50" cy="30.86" r="1.5" fill="#345d9d" />
<circle cx="354.50" cy="35.68" r="1.5" fill="#345d9d" />
<circle cx="368.00" cy="36.89" r="1.5" fill="#345d9d" />
<circle cx="382.00" cy="37.49" r="1.5" fill="#345d9d" />
<circle cx="395.00" cy="38.70" r="1.5" fill="#345d9d" />
<circle cx="408.50" cy="34.48" r="1.5" fill="#345d9d" />
<polyline points="327.80,32.67 341.50,32.67 354.50,36.89 368.00,38.10 382.00,38.70 395.00,39.91 408.50,37.49" fill="none" stroke="#345d9d" stroke-width="1.0" stroke-linejoin="round" />
<circle cx="327.80" cy="32.67" r="1.5" fill="#345d9d" />
<circle cx="341.50" cy="32.67" r="1.5" fill="#345d9d" />
<circle cx="354.50" cy="36.89" r="1.5" fill="#345d9d" />
<circle cx="368.00" cy="38.10" r="1.5" fill="#345d9d" />
<circle cx="382.00" cy="38.70" r="1.5" fill="#345d9d" />
<circle cx="395.00" cy="39.91" r="1.5" fill="#345d9d" />
<circle cx="408.50" cy="37.49" r="1.5" fill="#345d9d" />
<polyline points="327.80,32.67 341.50,32.06 354.50,36.29 368.00,37.49 382.00,42.32 395.00,38.70 408.50,41.72" fill="none" stroke="#345d9d" stroke-width="1.0" stroke-linejoin="round" />
<circle cx="327.80" cy="32.67" r="1.5" fill="#345d9d" />
<circle cx="341.50" cy="32.06" r="1.5" fill="#345d9d" />
<circle cx="354.50" cy="36.29" r="1.5" fill="#345d9d" />
<circle cx="368.00" cy="37.49" r="1.5" fill="#345d9d" />
<circle cx="382.00" cy="42.32" r="1.5" fill="#345d9d" />
<circle cx="395.00" cy="38.70" r="1.5" fill="#345d9d" />
<circle cx="408.50" cy="41.72" r="1.5" fill="#345d9d" />
<text transform="translate(299.20,56.00) rotate(-90)" font-size="8.8" fill="#151515" stroke="#151515" stroke-width="0.12" text-anchor="middle">Relative GFP<tspan font-size="5.5" dy="-3">+</tspan><tspan dy="3">%</tspan></text>
<line x1="428.80" y1="19.60" x2="437.90" y2="19.60" stroke="#345d9d" stroke-width="1.0" />
<circle cx="433.40" cy="19.60" r="1.6" fill="#345d9d" />
<text x="442.00" y="22.70" font-size="8.6" fill="#151515" stroke="#151515" stroke-width="0.12">ev</text>
<line x1="428.80" y1="30.70" x2="437.90" y2="30.70" stroke="#345d9d" stroke-width="1.0" />
<circle cx="433.40" cy="30.70" r="1.6" fill="#345d9d" />
<text x="442.00" y="33.80" font-size="8.6" fill="#151515" stroke="#151515" stroke-width="0.12">sgNontarget</text>
<line x1="428.80" y1="41.80" x2="437.90" y2="41.80" stroke="#345d9d" stroke-width="1.0" />
<circle cx="433.40" cy="41.80" r="1.6" fill="#345d9d" />
<text x="442.00" y="44.90" font-size="8.6" fill="#151515" stroke="#151515" stroke-width="0.12">sgRosa26</text>
<line x1="428.80" y1="52.90" x2="437.90" y2="52.90" stroke="#dc3f48" stroke-width="1.0" />
<circle cx="433.40" cy="52.90" r="1.6" fill="#dc3f48" />
<text x="442.00" y="56.00" font-size="8.6" fill="#151515" stroke="#151515" stroke-width="0.12">sgKAT6A-1</text>
<line x1="428.80" y1="64.00" x2="437.90" y2="64.00" stroke="#dc3f48" stroke-width="1.0" />
<circle cx="433.40" cy="64.00" r="1.6" fill="#dc3f48" />
<text x="442.00" y="67.10" font-size="8.6" fill="#151515" stroke="#151515" stroke-width="0.12">sgKAT6A-2</text>
<line x1="428.80" y1="75.10" x2="437.90" y2="75.10" stroke="#dc3f48" stroke-width="1.0" />
<circle cx="433.40" cy="75.10" r="1.6" fill="#dc3f48" />
<text x="442.00" y="78.20" font-size="8.6" fill="#151515" stroke="#151515" stroke-width="0.12">sgKAT6A-3</text>
<line x1="428.80" y1="86.20" x2="437.90" y2="86.20" stroke="#dc3f48" stroke-width="1.0" />
<circle cx="433.40" cy="86.20" r="1.6" fill="#dc3f48" />
<text x="442.00" y="89.30" font-size="8.6" fill="#151515" stroke="#151515" stroke-width="0.12">sgKAT6A-4</text>
<text x="65.00" y="134.10" font-size="8.8" fill="#151515" stroke="#151515" stroke-width="0.12">U937 (<tspan font-style="italic">MLL</tspan>-WT)</text>
<line x1="50.00" y1="211.50" x2="50.00" y2="138.50" stroke="#6d6e71" stroke-width="0.8" />
<line x1="48.00" y1="211.50" x2="50.00" y2="211.50" stroke="#6d6e71" stroke-width="0.8" />
<text x="46.80" y="214.60" font-size="8.6" fill="#151515" stroke="#151515" stroke-width="0.12" text-anchor="end">0</text>
<line x1="48.00" y1="199.42" x2="50.00" y2="199.42" stroke="#6d6e71" stroke-width="0.8" />
<text x="46.80" y="202.52" font-size="8.6" fill="#151515" stroke="#151515" stroke-width="0.12" text-anchor="end">20</text>
<line x1="48.00" y1="187.33" x2="50.00" y2="187.33" stroke="#6d6e71" stroke-width="0.8" />
<text x="46.80" y="190.43" font-size="8.6" fill="#151515" stroke="#151515" stroke-width="0.12" text-anchor="end">40</text>
<line x1="48.00" y1="175.25" x2="50.00" y2="175.25" stroke="#6d6e71" stroke-width="0.8" />
<text x="46.80" y="178.35" font-size="8.6" fill="#151515" stroke="#151515" stroke-width="0.12" text-anchor="end">60</text>
<line x1="48.00" y1="163.17" x2="50.00" y2="163.17" stroke="#6d6e71" stroke-width="0.8" />
<text x="46.80" y="166.27" font-size="8.6" fill="#151515" stroke="#151515" stroke-width="0.12" text-anchor="end">80</text>
<line x1="48.00" y1="151.08" x2="50.00" y2="151.08" stroke="#6d6e71" stroke-width="0.8" />
<text x="46.80" y="154.18" font-size="8.6" fill="#151515" stroke="#151515" stroke-width="0.12" text-anchor="end">100</text>
<line x1="48.00" y1="139.00" x2="50.00" y2="139.00" stroke="#6d6e71" stroke-width="0.8" />
<text x="46.80" y="142.10" font-size="8.6" fill="#151515" stroke="#151515" stroke-width="0.12" text-anchor="end">120</text>
<line x1="50.00" y1="211.50" x2="143.00" y2="211.50" stroke="#6d6e71" stroke-width="0.8" />
<line x1="58.00" y1="211.50" x2="58.00" y2="213.50" stroke="#6d6e71" stroke-width="0.8" />
<text transform="translate(63.30,219.60) rotate(-45)" font-size="8.6" fill="#151515" stroke="#151515" stroke-width="0.12" text-anchor="end">Day 3</text>
<line x1="74.00" y1="211.50" x2="74.00" y2="213.50" stroke="#6d6e71" stroke-width="0.8" />
<text transform="translate(79.30,219.60) rotate(-45)" font-size="8.6" fill="#151515" stroke="#151515" stroke-width="0.12" text-anchor="end">Day 6</text>
<line x1="90.00" y1="211.50" x2="90.00" y2="213.50" stroke="#6d6e71" stroke-width="0.8" />
<text transform="translate(95.30,219.60) rotate(-45)" font-size="8.6" fill="#151515" stroke="#151515" stroke-width="0.12" text-anchor="end">Day 9</text>
<line x1="105.50" y1="211.50" x2="105.50" y2="213.50" stroke="#6d6e71" stroke-width="0.8" />
<text transform="translate(110.80,219.60) rotate(-45)" font-size="8.6" fill="#151515" stroke="#151515" stroke-width="0.12" text-anchor="end">Day 12</text>
<line x1="121.00" y1="211.50" x2="121.00" y2="213.50" stroke="#6d6e71" stroke-width="0.8" />
<text transform="translate(126.30,219.60) rotate(-45)" font-size="8.6" fill="#151515" stroke="#151515" stroke-width="0.12" text-anchor="end">Day 15</text>
<line x1="136.50" y1="211.50" x2="136.50" y2="213.50" stroke="#6d6e71" stroke-width="0.8" />
<text transform="translate(141.80,219.60) rotate(-45)" font-size="8.6" fill="#151515" stroke="#151515" stroke-width="0.12" text-anchor="end">Day 21</text>
<polyline points="58.00,151.08 74.00,151.08 90.00,160.15 105.50,161.35 121.00,164.98 136.50,171.02" fill="none" stroke="#dc3f48" stroke-width="1.0" stroke-linejoin="round" />
<line x1="136.50" y1="167.40" x2="136.50" y2="174.65" stroke="#dc3f48" stroke-width="0.8" />
<line x1="135.00" y1="167.40" x2="138.00" y2="167.40" stroke="#dc3f48" stroke-width="0.8" />
<line x1="135.00" y1="174.65" x2="138.00" y2="174.65" stroke="#dc3f48" stroke-width="0.8" />
<circle cx="58.00" cy="151.08" r="1.5" fill="#dc3f48" />
<circle cx="74.00" cy="151.08" r="1.5" fill="#dc3f48" />
<circle cx="90.00" cy="160.15" r="1.5" fill="#dc3f48" />
<circle cx="105.50" cy="161.35" r="1.5" fill="#dc3f48" />
<circle cx="121.00" cy="164.98" r="1.5" fill="#dc3f48" />
<circle cx="136.50" cy="171.02" r="1.5" fill="#dc3f48" />
<polyline points="58.00,151.08 74.00,154.10 90.00,163.17 105.50,167.40 121.00,169.21 136.50,177.06" fill="none" stroke="#dc3f48" stroke-width="1.0" stroke-linejoin="round" />
<line x1="105.50" y1="164.38" x2="105.50" y2="170.42" stroke="#dc3f48" stroke-width="0.8" />
<line x1="104.00" y1="164.38" x2="107.00" y2="164.38" stroke="#dc3f48" stroke-width="0.8" />
<line x1="104.00" y1="170.42" x2="107.00" y2="170.42" stroke="#dc3f48" stroke-width="0.8" />
<line x1="121.00" y1="166.19" x2="121.00" y2="172.23" stroke="#dc3f48" stroke-width="0.8" />
<line x1="119.50" y1="166.19" x2="122.50" y2="166.19" stroke="#dc3f48" stroke-width="0.8" />
<line x1="119.50" y1="172.23" x2="122.50" y2="172.23" stroke="#dc3f48" stroke-width="0.8" />
<line x1="136.50" y1="173.44" x2="136.50" y2="180.69" stroke="#dc3f48" stroke-width="0.8" />
<line x1="135.00" y1="173.44" x2="138.00" y2="173.44" stroke="#dc3f48" stroke-width="0.8" />
<line x1="135.00" y1="180.69" x2="138.00" y2="180.69" stroke="#dc3f48" stroke-width="0.8" />
<circle cx="58.00" cy="151.08" r="1.5" fill="#dc3f48" />
<circle cx="74.00" cy="154.10" r="1.5" fill="#dc3f48" />
<circle cx="90.00" cy="163.17" r="1.5" fill="#dc3f48" />
<circle cx="105.50" cy="167.40" r="1.5" fill="#dc3f48" />
<circle cx="121.00" cy="169.21" r="1.5" fill="#dc3f48" />
<circle cx="136.50" cy="177.06" r="1.5" fill="#dc3f48" />
<polyline points="58.00,151.08 74.00,152.90 90.00,160.75 105.50,163.17 121.00,166.19 136.50,169.21" fill="none" stroke="#dc3f48" stroke-width="1.0" stroke-linejoin="round" />
<circle cx="58.00" cy="151.08" r="1.5" fill="#dc3f48" />
<circle cx="74.00" cy="152.90" r="1.5" fill="#dc3f48" />
<circle cx="90.00" cy="160.75" r="1.5" fill="#dc3f48" />
<circle cx="105.50" cy="163.17" r="1.5" fill="#dc3f48" />
<circle cx="121.00" cy="166.19" r="1.5" fill="#dc3f48" />
<circle cx="136.50" cy="169.21" r="1.5" fill="#dc3f48" />
<polyline points="58.00,151.08 74.00,151.08 90.00,154.10 105.50,157.12 121.00,155.92 136.50,155.92" fill="none" stroke="#345d9d" stroke-width="1.0" stroke-linejoin="round" />
<line x1="74.00" y1="145.04" x2="74.00" y2="157.12" stroke="#345d9d" stroke-width="0.8" />
<line x1="72.50" y1="145.04" x2="75.50" y2="145.04" stroke="#345d9d" stroke-width="0.8" />
<line x1="72.50" y1="157.12" x2="75.50" y2="157.12" stroke="#345d9d" stroke-width="0.8" />
<line x1="90.00" y1="150.48" x2="90.00" y2="157.73" stroke="#345d9d" stroke-width="0.8" />
<line x1="88.50" y1="150.48" x2="91.50" y2="150.48" stroke="#345d9d" stroke-width="0.8" />
<line x1="88.50" y1="157.73" x2="91.50" y2="157.73" stroke="#345d9d" stroke-width="0.8" />
<line x1="105.50" y1="153.50" x2="105.50" y2="160.75" stroke="#345d9d" stroke-width="0.8" />
<line x1="104.00" y1="153.50" x2="107.00" y2="153.50" stroke="#345d9d" stroke-width="0.8" />
<line x1="104.00" y1="160.75" x2="107.00" y2="160.75" stroke="#345d9d" stroke-width="0.8" />
<line x1="121.00" y1="153.50" x2="121.00" y2="158.33" stroke="#345d9d" stroke-width="0.8" />
<line x1="119.50" y1="153.50" x2="122.50" y2="153.50" stroke="#345d9d" stroke-width="0.8" />
<line x1="119.50" y1="158.33" x2="122.50" y2="158.33" stroke="#345d9d" stroke-width="0.8" />
<line x1="136.50" y1="153.50" x2="136.50" y2="158.33" stroke="#345d9d" stroke-width="0.8" />
<line x1="135.00" y1="153.50" x2="138.00" y2="153.50" stroke="#345d9d" stroke-width="0.8" />
<line x1="135.00" y1="158.33" x2="138.00" y2="158.33" stroke="#345d9d" stroke-width="0.8" />
<circle cx="58.00" cy="151.08" r="1.5" fill="#345d9d" />
<circle cx="74.00" cy="151.08" r="1.5" fill="#345d9d" />
<circle cx="90.00" cy="154.10" r="1.5" fill="#345d9d" />
<circle cx="105.50" cy="157.12" r="1.5" fill="#345d9d" />
<circle cx="121.00" cy="155.92" r="1.5" fill="#345d9d" />
<circle cx="136.50" cy="155.92" r="1.5" fill="#345d9d" />
<polyline points="58.00,151.08 74.00,159.54 90.00,158.94 105.50,158.94 121.00,155.92 136.50,157.12" fill="none" stroke="#345d9d" stroke-width="1.0" stroke-linejoin="round" />
<circle cx="58.00" cy="151.08" r="1.5" fill="#345d9d" />
<circle cx="74.00" cy="159.54" r="1.5" fill="#345d9d" />
<circle cx="90.00" cy="158.94" r="1.5" fill="#345d9d" />
<circle cx="105.50" cy="158.94" r="1.5" fill="#345d9d" />
<circle cx="121.00" cy="155.92" r="1.5" fill="#345d9d" />
<circle cx="136.50" cy="157.12" r="1.5" fill="#345d9d" />
<text transform="translate(28.80,175.40) rotate(-90)" font-size="8.8" fill="#151515" stroke="#151515" stroke-width="0.12" text-anchor="middle">Relative GFP<tspan font-size="5.5" dy="-3">+</tspan><tspan dy="3">%</tspan></text>
<line x1="140.10" y1="157.40" x2="145.60" y2="157.40" stroke="#6d6e71" stroke-width="0.8" />
<line x1="145.60" y1="157.40" x2="145.60" y2="174.50" stroke="#6d6e71" stroke-width="0.8" />
<line x1="141.00" y1="174.50" x2="145.60" y2="174.50" stroke="#6d6e71" stroke-width="0.8" />
<circle cx="149.90" cy="165.90" r="0.9" fill="#333" />
<text x="192.00" y="135.10" font-size="8.8" fill="#151515" stroke="#151515" stroke-width="0.12">OCI-AML3 (<tspan font-style="italic">MLL</tspan>-WT)</text>
<line x1="185.50" y1="211.50" x2="185.50" y2="138.50" stroke="#6d6e71" stroke-width="0.8" />
<line x1="183.50" y1="211.50" x2="185.50" y2="211.50" stroke="#6d6e71" stroke-width="0.8" />
<text x="182.30" y="214.60" font-size="8.6" fill="#151515" stroke="#151515" stroke-width="0.12" text-anchor="end">0</text>
<line x1="183.50" y1="193.38" x2="185.50" y2="193.38" stroke="#6d6e71" stroke-width="0.8" />
<text x="182.30" y="196.47" font-size="8.6" fill="#151515" stroke="#151515" stroke-width="0.12" text-anchor="end">40</text>
<line x1="183.50" y1="175.25" x2="185.50" y2="175.25" stroke="#6d6e71" stroke-width="0.8" />
<text x="182.30" y="178.35" font-size="8.6" fill="#151515" stroke="#151515" stroke-width="0.12" text-anchor="end">80</text>
<line x1="183.50" y1="157.12" x2="185.50" y2="157.12" stroke="#6d6e71" stroke-width="0.8" />
<text x="182.30" y="160.22" font-size="8.6" fill="#151515" stroke="#151515" stroke-width="0.12" text-anchor="end">120</text>
<line x1="183.50" y1="139.00" x2="185.50" y2="139.00" stroke="#6d6e71" stroke-width="0.8" />
<text x="182.30" y="142.10" font-size="8.6" fill="#151515" stroke="#151515" stroke-width="0.12" text-anchor="end">160</text>
<line x1="185.50" y1="211.50" x2="280.00" y2="211.50" stroke="#6d6e71" stroke-width="0.8" />
<line x1="192.50" y1="211.50" x2="192.50" y2="213.50" stroke="#6d6e71" stroke-width="0.8" />
<text transform="translate(197.80,219.60) rotate(-45)" font-size="8.6" fill="#151515" stroke="#151515" stroke-width="0.12" text-anchor="end">Day 3</text>
<line x1="206.00" y1="211.50" x2="206.00" y2="213.50" stroke="#6d6e71" stroke-width="0.8" />
<text transform="translate(211.30,219.60) rotate(-45)" font-size="8.6" fill="#151515" stroke="#151515" stroke-width="0.12" text-anchor="end">Day 6</text>
<line x1="219.50" y1="211.50" x2="219.50" y2="213.50" stroke="#6d6e71" stroke-width="0.8" />
<text transform="translate(224.80,219.60) rotate(-45)" font-size="8.6" fill="#151515" stroke="#151515" stroke-width="0.12" text-anchor="end">Day 9</text>
<line x1="233.00" y1="211.50" x2="233.00" y2="213.50" stroke="#6d6e71" stroke-width="0.8" />
<text transform="translate(238.30,219.60) rotate(-45)" font-size="8.6" fill="#151515" stroke="#151515" stroke-width="0.12" text-anchor="end">Day 12</text>
<line x1="246.50" y1="211.50" x2="246.50" y2="213.50" stroke="#6d6e71" stroke-width="0.8" />
<text transform="translate(251.80,219.60) rotate(-45)" font-size="8.6" fill="#151515" stroke="#151515" stroke-width="0.12" text-anchor="end">Day 15</text>
<line x1="260.00" y1="211.50" x2="260.00" y2="213.50" stroke="#6d6e71" stroke-width="0.8" />
<text transform="translate(265.30,219.60) rotate(-45)" font-size="8.6" fill="#151515" stroke="#151515" stroke-width="0.12" text-anchor="end">Day 18</text>
<line x1="273.75" y1="211.50" x2="273.75" y2="213.50" stroke="#6d6e71" stroke-width="0.8" />
<text transform="translate(279.05,219.60) rotate(-45)" font-size="8.6" fill="#151515" stroke="#151515" stroke-width="0.12" text-anchor="end">Day 21</text>
<polyline points="192.50,166.19 206.00,158.94 219.50,155.77 233.00,154.18 246.50,155.99 260.00,158.03 273.75,158.94" fill="none" stroke="#dc3f48" stroke-width="1.0" stroke-linejoin="round" />
<line x1="246.50" y1="153.27" x2="246.50" y2="158.71" stroke="#dc3f48" stroke-width="0.8" />
<line x1="245.00" y1="153.27" x2="248.00" y2="153.27" stroke="#dc3f48" stroke-width="0.8" />
<line x1="245.00" y1="158.71" x2="248.00" y2="158.71" stroke="#dc3f48" stroke-width="0.8" />
<line x1="260.00" y1="155.31" x2="260.00" y2="160.75" stroke="#dc3f48" stroke-width="0.8" />
<line x1="258.50" y1="155.31" x2="261.50" y2="155.31" stroke="#dc3f48" stroke-width="0.8" />
<line x1="258.50" y1="160.75" x2="261.50" y2="160.75" stroke="#dc3f48" stroke-width="0.8" />
<line x1="273.75" y1="155.31" x2="273.75" y2="162.56" stroke="#dc3f48" stroke-width="0.8" />
<line x1="272.25" y1="155.31" x2="275.25" y2="155.31" stroke="#dc3f48" stroke-width="0.8" />
<line x1="272.25" y1="162.56" x2="275.25" y2="162.56" stroke="#dc3f48" stroke-width="0.8" />
<circle cx="192.50" cy="166.19" r="1.5" fill="#dc3f48" />
<circle cx="206.00" cy="158.94" r="1.5" fill="#dc3f48" />
<circle cx="219.50" cy="155.77" r="1.5" fill="#dc3f48" />
<circle cx="233.00" cy="154.18" r="1.5" fill="#dc3f48" />
<circle cx="246.50" cy="155.99" r="1.5" fill="#dc3f48" />
<circle cx="260.00" cy="158.03" r="1.5" fill="#dc3f48" />
<circle cx="273.75" cy="158.94" r="1.5" fill="#dc3f48" />
<polyline points="192.50,166.19 206.00,159.39 219.50,157.12 233.00,155.77 246.50,158.03 260.00,160.03 273.75,160.03" fill="none" stroke="#dc3f48" stroke-width="1.0" stroke-linejoin="round" />
<circle cx="192.50" cy="166.19" r="1.5" fill="#dc3f48" />
<circle cx="206.00" cy="159.39" r="1.5" fill="#dc3f48" />
<circle cx="219.50" cy="157.12" r="1.5" fill="#dc3f48" />
<circle cx="233.00" cy="155.77" r="1.5" fill="#dc3f48" />
<circle cx="246.50" cy="158.03" r="1.5" fill="#dc3f48" />
<circle cx="260.00" cy="160.03" r="1.5" fill="#dc3f48" />
<circle cx="273.75" cy="160.03" r="1.5" fill="#dc3f48" />
<polyline points="192.50,166.19 206.00,160.03 219.50,162.11 233.00,164.38 246.50,168.68 260.00,170.72 273.75,172.08" fill="none" stroke="#dc3f48" stroke-width="1.0" stroke-linejoin="round" />
<line x1="219.50" y1="160.75" x2="219.50" y2="163.47" stroke="#dc3f48" stroke-width="0.8" />
<line x1="218.00" y1="160.75" x2="221.00" y2="160.75" stroke="#dc3f48" stroke-width="0.8" />
<line x1="218.00" y1="163.47" x2="221.00" y2="163.47" stroke="#dc3f48" stroke-width="0.8" />
<line x1="233.00" y1="163.02" x2="233.00" y2="165.73" stroke="#dc3f48" stroke-width="0.8" />
<line x1="231.50" y1="163.02" x2="234.50" y2="163.02" stroke="#dc3f48" stroke-width="0.8" />
<line x1="231.50" y1="165.73" x2="234.50" y2="165.73" stroke="#dc3f48" stroke-width="0.8" />
<line x1="246.50" y1="165.96" x2="246.50" y2="171.40" stroke="#dc3f48" stroke-width="0.8" />
<line x1="245.00" y1="165.96" x2="248.00" y2="165.96" stroke="#dc3f48" stroke-width="0.8" />
<line x1="245.00" y1="171.40" x2="248.00" y2="171.40" stroke="#dc3f48" stroke-width="0.8" />
<line x1="260.00" y1="168.45" x2="260.00" y2="172.98" stroke="#dc3f48" stroke-width="0.8" />
<line x1="258.50" y1="168.45" x2="261.50" y2="168.45" stroke="#dc3f48" stroke-width="0.8" />
<line x1="258.50" y1="172.98" x2="261.50" y2="172.98" stroke="#dc3f48" stroke-width="0.8" />
<line x1="273.75" y1="170.27" x2="273.75" y2="173.89" stroke="#dc3f48" stroke-width="0.8" />
<line x1="272.25" y1="170.27" x2="275.25" y2="170.27" stroke="#dc3f48" stroke-width="0.8" />
<line x1="272.25" y1="173.89" x2="275.25" y2="173.89" stroke="#dc3f48" stroke-width="0.8" />
<circle cx="192.50" cy="166.19" r="1.5" fill="#dc3f48" />
<circle cx="206.00" cy="160.03" r="1.5" fill="#dc3f48" />
<circle cx="219.50" cy="162.11" r="1.5" fill="#dc3f48" />
<circle cx="233.00" cy="164.38" r="1.5" fill="#dc3f48" />
<circle cx="246.50" cy="168.68" r="1.5" fill="#dc3f48" />
<circle cx="260.00" cy="170.72" r="1.5" fill="#dc3f48" />
<circle cx="273.75" cy="172.08" r="1.5" fill="#dc3f48" />
<polyline points="192.50,166.19 206.00,155.31 219.50,148.52 233.00,148.52 246.50,146.02 260.00,146.02 273.75,143.98" fill="none" stroke="#345d9d" stroke-width="1.0" stroke-linejoin="round" />
<line x1="206.00" y1="153.50" x2="206.00" y2="157.12" stroke="#345d9d" stroke-width="0.8" />
<line x1="204.50" y1="153.50" x2="207.50" y2="153.50" stroke="#345d9d" stroke-width="0.8" />
<line x1="204.50" y1="157.12" x2="207.50" y2="157.12" stroke="#345d9d" stroke-width="0.8" />
<line x1="219.50" y1="146.70" x2="219.50" y2="150.33" stroke="#345d9d" stroke-width="0.8" />
<line x1="218.00" y1="146.70" x2="221.00" y2="146.70" stroke="#345d9d" stroke-width="0.8" />
<line x1="218.00" y1="150.33" x2="221.00" y2="150.33" stroke="#345d9d" stroke-width="0.8" />
<line x1="233.00" y1="146.70" x2="233.00" y2="150.33" stroke="#345d9d" stroke-width="0.8" />
<line x1="231.50" y1="146.70" x2="234.50" y2="146.70" stroke="#345d9d" stroke-width="0.8" />
<line x1="231.50" y1="150.33" x2="234.50" y2="150.33" stroke="#345d9d" stroke-width="0.8" />
<line x1="246.50" y1="141.49" x2="246.50" y2="150.55" stroke="#345d9d" stroke-width="0.8" />
<line x1="245.00" y1="141.49" x2="248.00" y2="141.49" stroke="#345d9d" stroke-width="0.8" />
<line x1="245.00" y1="150.55" x2="248.00" y2="150.55" stroke="#345d9d" stroke-width="0.8" />
<line x1="260.00" y1="142.40" x2="260.00" y2="149.65" stroke="#345d9d" stroke-width="0.8" />
<line x1="258.50" y1="142.40" x2="261.50" y2="142.40" stroke="#345d9d" stroke-width="0.8" />
<line x1="258.50" y1="149.65" x2="261.50" y2="149.65" stroke="#345d9d" stroke-width="0.8" />
<line x1="273.75" y1="139.45" x2="273.75" y2="148.52" stroke="#345d9d" stroke-width="0.8" />
<line x1="272.25" y1="139.45" x2="275.25" y2="139.45" stroke="#345d9d" stroke-width="0.8" />
<line x1="272.25" y1="148.52" x2="275.25" y2="148.52" stroke="#345d9d" stroke-width="0.8" />
<circle cx="192.50" cy="166.19" r="1.5" fill="#345d9d" />
<circle cx="206.00" cy="155.31" r="1.5" fill="#345d9d" />
<circle cx="219.50" cy="148.52" r="1.5" fill="#345d9d" />
<circle cx="233.00" cy="148.52" r="1.5" fill="#345d9d" />
<circle cx="246.50" cy="146.02" r="1.5" fill="#345d9d" />
<circle cx="260.00" cy="146.02" r="1.5" fill="#345d9d" />
<circle cx="273.75" cy="143.98" r="1.5" fill="#345d9d" />
<polyline points="192.50,166.19 206.00,157.12 219.50,158.03 233.00,155.31 246.50,153.27 260.00,153.27 273.75,153.68" fill="none" stroke="#345d9d" stroke-width="1.0" stroke-linejoin="round" />
<line x1="246.50" y1="149.65" x2="246.50" y2="156.90" stroke="#345d9d" stroke-width="0.8" />
<line x1="245.00" y1="149.65" x2="248.00" y2="149.65" stroke="#345d9d" stroke-width="0.8" />
<line x1="245.00" y1="156.90" x2="248.00" y2="156.90" stroke="#345d9d" stroke-width="0.8" />
<line x1="260.00" y1="149.65" x2="260.00" y2="156.90" stroke="#345d9d" stroke-width="0.8" />
<line x1="258.50" y1="149.65" x2="261.50" y2="149.65" stroke="#345d9d" stroke-width="0.8" />
<line x1="258.50" y1="156.90" x2="261.50" y2="156.90" stroke="#345d9d" stroke-width="0.8" />
<line x1="273.75" y1="149.15" x2="273.75" y2="158.21" stroke="#345d9d" stroke-width="0.8" />
<line x1="272.25" y1="149.15" x2="275.25" y2="149.15" stroke="#345d9d" stroke-width="0.8" />
<line x1="272.25" y1="158.21" x2="275.25" y2="158.21" stroke="#345d9d" stroke-width="0.8" />
<circle cx="192.50" cy="166.19" r="1.5" fill="#345d9d" />
<circle cx="206.00" cy="157.12" r="1.5" fill="#345d9d" />
<circle cx="219.50" cy="158.03" r="1.5" fill="#345d9d" />
<circle cx="233.00" cy="155.31" r="1.5" fill="#345d9d" />
<circle cx="246.50" cy="153.27" r="1.5" fill="#345d9d" />
<circle cx="260.00" cy="153.27" r="1.5" fill="#345d9d" />
<circle cx="273.75" cy="153.68" r="1.5" fill="#345d9d" />
<polyline points="192.50,166.19 206.00,157.58 219.50,156.67 233.00,155.09 246.50,155.77 260.00,154.09 273.75,158.03" fill="none" stroke="#345d9d" stroke-width="1.0" stroke-linejoin="round" />
<circle cx="192.50" cy="166.19" r="1.5" fill="#345d9d" />
<circle cx="206.00" cy="157.58" r="1.5" fill="#345d9d" />
<circle cx="219.50" cy="156.67" r="1.5" fill="#345d9d" />
<circle cx="233.00" cy="155.09" r="1.5" fill="#345d9d" />
<circle cx="246.50" cy="155.77" r="1.5" fill="#345d9d" />
<circle cx="260.00" cy="154.09" r="1.5" fill="#345d9d" />
<circle cx="273.75" cy="158.03" r="1.5" fill="#345d9d" />
<text transform="translate(163.80,175.60) rotate(-90)" font-size="8.8" fill="#151515" stroke="#151515" stroke-width="0.12" text-anchor="middle">Relative GFP<tspan font-size="5.5" dy="-3">+</tspan><tspan dy="3">%</tspan></text>
<circle cx="283.30" cy="172.80" r="0.9" fill="#1a3a2a" />
<text x="336.00" y="134.10" font-size="8.8" fill="#151515" stroke="#151515" stroke-width="0.12">HL-60 (<tspan font-style="italic">MLL</tspan>-WT)</text>
<line x1="321.25" y1="212.50" x2="321.25" y2="138.50" stroke="#6d6e71" stroke-width="0.8" />
<line x1="319.25" y1="212.50" x2="321.25" y2="212.50" stroke="#6d6e71" stroke-width="0.8" />
<text x="318.05" y="215.60" font-size="8.6" fill="#151515" stroke="#151515" stroke-width="0.12" text-anchor="end">0</text>
<line x1="319.25" y1="188.17" x2="321.25" y2="188.17" stroke="#6d6e71" stroke-width="0.8" />
<text x="318.05" y="191.27" font-size="8.6" fill="#151515" stroke="#151515" stroke-width="0.12" text-anchor="end">50</text>
<line x1="319.25" y1="163.83" x2="321.25" y2="163.83" stroke="#6d6e71" stroke-width="0.8" />
<text x="318.05" y="166.93" font-size="8.6" fill="#151515" stroke="#151515" stroke-width="0.12" text-anchor="end">100</text>
<line x1="319.25" y1="139.50" x2="321.25" y2="139.50" stroke="#6d6e71" stroke-width="0.8" />
<text x="318.05" y="142.60" font-size="8.6" fill="#151515" stroke="#151515" stroke-width="0.12" text-anchor="end">150</text>
<line x1="321.25" y1="212.50" x2="416.00" y2="212.50" stroke="#6d6e71" stroke-width="0.8" />
<line x1="328.00" y1="212.50" x2="328.00" y2="214.50" stroke="#6d6e71" stroke-width="0.8" />
<text transform="translate(333.30,220.60) rotate(-45)" font-size="8.6" fill="#151515" stroke="#151515" stroke-width="0.12" text-anchor="end">Day 3</text>
<line x1="342.00" y1="212.50" x2="342.00" y2="214.50" stroke="#6d6e71" stroke-width="0.8" />
<text transform="translate(347.30,220.60) rotate(-45)" font-size="8.6" fill="#151515" stroke="#151515" stroke-width="0.12" text-anchor="end">Day 6</text>
<line x1="355.00" y1="212.50" x2="355.00" y2="214.50" stroke="#6d6e71" stroke-width="0.8" />
<text transform="translate(360.30,220.60) rotate(-45)" font-size="8.6" fill="#151515" stroke="#151515" stroke-width="0.12" text-anchor="end">Day 9</text>
<line x1="369.00" y1="212.50" x2="369.00" y2="214.50" stroke="#6d6e71" stroke-width="0.8" />
<text transform="translate(374.30,220.60) rotate(-45)" font-size="8.6" fill="#151515" stroke="#151515" stroke-width="0.12" text-anchor="end">Day 12</text>
<line x1="382.50" y1="212.50" x2="382.50" y2="214.50" stroke="#6d6e71" stroke-width="0.8" />
<text transform="translate(387.80,220.60) rotate(-45)" font-size="8.6" fill="#151515" stroke="#151515" stroke-width="0.12" text-anchor="end">Day 15</text>
<line x1="396.00" y1="212.50" x2="396.00" y2="214.50" stroke="#6d6e71" stroke-width="0.8" />
<text transform="translate(401.30,220.60) rotate(-45)" font-size="8.6" fill="#151515" stroke="#151515" stroke-width="0.12" text-anchor="end">Day 18</text>
<line x1="410.00" y1="212.50" x2="410.00" y2="214.50" stroke="#6d6e71" stroke-width="0.8" />
<text transform="translate(415.30,220.60) rotate(-45)" font-size="8.6" fill="#151515" stroke="#151515" stroke-width="0.12" text-anchor="end">Day 21</text>
<polyline points="328.00,163.83 342.00,156.05 355.00,155.56 369.00,157.02 382.50,157.51 396.00,156.53 410.00,155.56" fill="none" stroke="#dc3f48" stroke-width="1.0" stroke-linejoin="round" />
<circle cx="328.00" cy="163.83" r="1.5" fill="#dc3f48" />
<circle cx="342.00" cy="156.05" r="1.5" fill="#dc3f48" />
<circle cx="355.00" cy="155.56" r="1.5" fill="#dc3f48" />
<circle cx="369.00" cy="157.02" r="1.5" fill="#dc3f48" />
<circle cx="382.50" cy="157.51" r="1.5" fill="#dc3f48" />
<circle cx="396.00" cy="156.53" r="1.5" fill="#dc3f48" />
<circle cx="410.00" cy="155.56" r="1.5" fill="#dc3f48" />
<polyline points="328.00,163.83 342.00,157.02 355.00,158.97 369.00,158.97 382.50,159.45 396.00,157.99 410.00,157.51" fill="none" stroke="#dc3f48" stroke-width="1.0" stroke-linejoin="round" />
<circle cx="328.00" cy="163.83" r="1.5" fill="#dc3f48" />
<circle cx="342.00" cy="157.02" r="1.5" fill="#dc3f48" />
<circle cx="355.00" cy="158.97" r="1.5" fill="#dc3f48" />
<circle cx="369.00" cy="158.97" r="1.5" fill="#dc3f48" />
<circle cx="382.50" cy="159.45" r="1.5" fill="#dc3f48" />
<circle cx="396.00" cy="157.99" r="1.5" fill="#dc3f48" />
<circle cx="410.00" cy="157.51" r="1.5" fill="#dc3f48" />
<polyline points="328.00,163.83 342.00,155.56 355.00,157.02 369.00,157.99 382.50,158.97 396.00,158.48 410.00,157.02" fill="none" stroke="#dc3f48" stroke-width="1.0" stroke-linejoin="round" />
<circle cx="328.00" cy="163.83" r="1.5" fill="#dc3f48" />
<circle cx="342.00" cy="155.56" r="1.5" fill="#dc3f48" />
<circle cx="355.00" cy="157.02" r="1.5" fill="#dc3f48" />
<circle cx="369.00" cy="157.99" r="1.5" fill="#dc3f48" />
<circle cx="382.50" cy="158.97" r="1.5" fill="#dc3f48" />
<circle cx="396.00" cy="158.48" r="1.5" fill="#dc3f48" />
<circle cx="410.00" cy="157.02" r="1.5" fill="#dc3f48" />
<polyline points="328.00,163.83 342.00,152.15 355.00,151.18 369.00,151.67 382.50,149.23 396.00,150.69 410.00,149.72" fill="none" stroke="#345d9d" stroke-width="1.0" stroke-linejoin="round" />
<line x1="342.00" y1="150.69" x2="342.00" y2="153.61" stroke="#345d9d" stroke-width="0.8" />
<line x1="340.50" y1="150.69" x2="343.50" y2="150.69" stroke="#345d9d" stroke-width="0.8" />
<line x1="340.50" y1="153.61" x2="343.50" y2="153.61" stroke="#345d9d" stroke-width="0.8" />
<line x1="355.00" y1="149.72" x2="355.00" y2="152.64" stroke="#345d9d" stroke-width="0.8" />
<line x1="353.50" y1="149.72" x2="356.50" y2="149.72" stroke="#345d9d" stroke-width="0.8" />
<line x1="353.50" y1="152.64" x2="356.50" y2="152.64" stroke="#345d9d" stroke-width="0.8" />
<line x1="369.00" y1="150.21" x2="369.00" y2="153.13" stroke="#345d9d" stroke-width="0.8" />
<line x1="367.50" y1="150.21" x2="370.50" y2="150.21" stroke="#345d9d" stroke-width="0.8" />
<line x1="367.50" y1="153.13" x2="370.50" y2="153.13" stroke="#345d9d" stroke-width="0.8" />
<line x1="382.50" y1="147.29" x2="382.50" y2="151.18" stroke="#345d9d" stroke-width="0.8" />
<line x1="381.00" y1="147.29" x2="384.00" y2="147.29" stroke="#345d9d" stroke-width="0.8" />
<line x1="381.00" y1="151.18" x2="384.00" y2="151.18" stroke="#345d9d" stroke-width="0.8" />
<line x1="396.00" y1="149.23" x2="396.00" y2="152.15" stroke="#345d9d" stroke-width="0.8" />
<line x1="394.50" y1="149.23" x2="397.50" y2="149.23" stroke="#345d9d" stroke-width="0.8" />
<line x1="394.50" y1="152.15" x2="397.50" y2="152.15" stroke="#345d9d" stroke-width="0.8" />
<line x1="410.00" y1="146.80" x2="410.00" y2="152.64" stroke="#345d9d" stroke-width="0.8" />
<line x1="408.50" y1="146.80" x2="411.50" y2="146.80" stroke="#345d9d" stroke-width="0.8" />
<line x1="408.50" y1="152.64" x2="411.50" y2="152.64" stroke="#345d9d" stroke-width="0.8" />
<circle cx="328.00" cy="163.83" r="1.5" fill="#345d9d" />
<circle cx="342.00" cy="152.15" r="1.5" fill="#345d9d" />
<circle cx="355.00" cy="151.18" r="1.5" fill="#345d9d" />
<circle cx="369.00" cy="151.67" r="1.5" fill="#345d9d" />
<circle cx="382.50" cy="149.23" r="1.5" fill="#345d9d" />
<circle cx="396.00" cy="150.69" r="1.5" fill="#345d9d" />
<circle cx="410.00" cy="149.72" r="1.5" fill="#345d9d" />
<polyline points="328.00,163.83 342.00,153.13 355.00,151.67 369.00,152.64 382.50,152.15 396.00,153.13 410.00,151.18" fill="none" stroke="#345d9d" stroke-width="1.0" stroke-linejoin="round" />
<circle cx="328.00" cy="163.83" r="1.5" fill="#345d9d" />
<circle cx="342.00" cy="153.13" r="1.5" fill="#345d9d" />
<circle cx="355.00" cy="151.67" r="1.5" fill="#345d9d" />
<circle cx="369.00" cy="152.64" r="1.5" fill="#345d9d" />
<circle cx="382.50" cy="152.15" r="1.5" fill="#345d9d" />
<circle cx="396.00" cy="153.13" r="1.5" fill="#345d9d" />
<circle cx="410.00" cy="151.18" r="1.5" fill="#345d9d" />
<polyline points="328.00,163.83 342.00,154.10 355.00,153.13 369.00,153.61 382.50,154.10 396.00,154.10 410.00,153.61" fill="none" stroke="#345d9d" stroke-width="1.0" stroke-linejoin="round" />
<circle cx="328.00" cy="163.83" r="1.5" fill="#345d9d" />
<circle cx="342.00" cy="154.10" r="1.5" fill="#345d9d" />
<circle cx="355.00" cy="153.13" r="1.5" fill="#345d9d" />
<circle cx="369.00" cy="153.61" r="1.5" fill="#345d9d" />
<circle cx="382.50" cy="154.10" r="1.5" fill="#345d9d" />
<circle cx="396.00" cy="154.10" r="1.5" fill="#345d9d" />
<circle cx="410.00" cy="153.61" r="1.5" fill="#345d9d" />
<text transform="translate(299.20,175.80) rotate(-90)" font-size="8.8" fill="#151515" stroke="#151515" stroke-width="0.12" text-anchor="middle">Relative GFP<tspan font-size="5.5" dy="-3">+</tspan><tspan dy="3">%</tspan></text>
<text x="0.40" y="266.80" font-size="11.3" fill="#000" font-weight="bold">B</text>
<text x="71.00" y="273.50" font-size="8.6" fill="#151515" stroke="#151515" stroke-width="0.12">Cell-cycle analysis</text>
<line x1="49.00" y1="372.70" x2="49.00" y2="288.50" stroke="#6d6e71" stroke-width="0.8" />
<line x1="47.00" y1="372.70" x2="49.00" y2="372.70" stroke="#6d6e71" stroke-width="0.8" />
<text x="45.80" y="375.80" font-size="8.6" fill="#151515" stroke="#151515" stroke-width="0.12" text-anchor="end">0</text>
<line x1="47.00" y1="356.00" x2="49.00" y2="356.00" stroke="#6d6e71" stroke-width="0.8" />
<text x="45.80" y="359.10" font-size="8.6" fill="#151515" stroke="#151515" stroke-width="0.12" text-anchor="end">20</text>
<line x1="47.00" y1="339.30" x2="49.00" y2="339.30" stroke="#6d6e71" stroke-width="0.8" />
<text x="45.80" y="342.40" font-size="8.6" fill="#151515" stroke="#151515" stroke-width="0.12" text-anchor="end">40</text>
<line x1="47.00" y1="322.60" x2="49.00" y2="322.60" stroke="#6d6e71" stroke-width="0.8" />
<text x="45.80" y="325.70" font-size="8.6" fill="#151515" stroke="#151515" stroke-width="0.12" text-anchor="end">60</text>
<line x1="47.00" y1="305.90" x2="49.00" y2="305.90" stroke="#6d6e71" stroke-width="0.8" />
<text x="45.80" y="309.00" font-size="8.6" fill="#151515" stroke="#151515" stroke-width="0.12" text-anchor="end">80</text>
<line x1="47.00" y1="289.20" x2="49.00" y2="289.20" stroke="#6d6e71" stroke-width="0.8" />
<text x="45.80" y="292.30" font-size="8.6" fill="#151515" stroke="#151515" stroke-width="0.12" text-anchor="end">100</text>
<line x1="49.00" y1="372.70" x2="162.00" y2="372.70" stroke="#6d6e71" stroke-width="0.8" />
<text transform="translate(26.80,330.40) rotate(-90)" font-size="8.5" fill="#151515" stroke="#151515" stroke-width="0.12" text-anchor="middle">Percentage</text>
<rect x="54.88" y="323.44" width="9.05" height="49.26" fill="#fff" stroke="#4f76ae" stroke-width="0.95" />
<line x1="59.40" y1="316.75" x2="59.40" y2="330.95" stroke="#345d9d" stroke-width="0.8" />
<line x1="57.40" y1="316.75" x2="61.40" y2="316.75" stroke="#345d9d" stroke-width="0.8" />
<line x1="57.40" y1="330.95" x2="61.40" y2="330.95" stroke="#345d9d" stroke-width="0.8" />
<circle cx="56.70" cy="316.75" r="1.8" fill="#345d9d" />
<circle cx="62.50" cy="316.75" r="1.8" fill="#345d9d" />
<circle cx="55.80" cy="330.62" r="1.8" fill="#345d9d" />
<circle cx="62.10" cy="328.11" r="1.8" fill="#345d9d" />
<rect x="69.67" y="303.39" width="9.05" height="69.31" fill="#fff" stroke="#e86a6e" stroke-width="0.95" />
<line x1="74.20" y1="301.31" x2="74.20" y2="305.90" stroke="#dc3f48" stroke-width="0.8" />
<line x1="72.20" y1="301.31" x2="76.20" y2="301.31" stroke="#dc3f48" stroke-width="0.8" />
<line x1="72.20" y1="305.90" x2="76.20" y2="305.90" stroke="#dc3f48" stroke-width="0.8" />
<circle cx="71.20" cy="300.31" r="1.8" fill="#dc3f48" />
<circle cx="76.90" cy="300.72" r="1.8" fill="#dc3f48" />
<circle cx="74.00" cy="306.40" r="1.8" fill="#dc3f48" />
<circle cx="74.20" cy="303.39" r="1.8" fill="#dc3f48" />
<rect x="94.97" y="364.35" width="9.05" height="8.35" fill="#fff" stroke="#4f76ae" stroke-width="0.95" />
<line x1="99.50" y1="362.26" x2="99.50" y2="366.02" stroke="#345d9d" stroke-width="0.8" />
<line x1="97.50" y1="362.26" x2="101.50" y2="362.26" stroke="#345d9d" stroke-width="0.8" />
<line x1="97.50" y1="366.02" x2="101.50" y2="366.02" stroke="#345d9d" stroke-width="0.8" />
<circle cx="96.00" cy="365.60" r="1.8" fill="#345d9d" />
<circle cx="100.20" cy="363.51" r="1.8" fill="#345d9d" />
<circle cx="103.40" cy="361.84" r="1.8" fill="#345d9d" />
<circle cx="100.20" cy="367.27" r="1.8" fill="#345d9d" />
<rect x="109.47" y="370.19" width="9.05" height="2.50" fill="#fff" stroke="#e86a6e" stroke-width="0.95" />
<line x1="114.00" y1="368.11" x2="114.00" y2="371.87" stroke="#dc3f48" stroke-width="0.8" />
<line x1="112.00" y1="368.11" x2="116.00" y2="368.11" stroke="#dc3f48" stroke-width="0.8" />
<line x1="112.00" y1="371.87" x2="116.00" y2="371.87" stroke="#dc3f48" stroke-width="0.8" />
<circle cx="110.80" cy="370.86" r="1.8" fill="#dc3f48" />
<circle cx="114.00" cy="369.78" r="1.8" fill="#dc3f48" />
<circle cx="117.00" cy="370.19" r="1.8" fill="#dc3f48" />
<rect x="134.97" y="346.81" width="9.05" height="25.88" fill="#fff" stroke="#4f76ae" stroke-width="0.95" />
<line x1="139.50" y1="342.64" x2="139.50" y2="350.15" stroke="#345d9d" stroke-width="0.8" />
<line x1="137.50" y1="342.64" x2="141.50" y2="342.64" stroke="#345d9d" stroke-width="0.8" />
<line x1="137.50" y1="350.15" x2="141.50" y2="350.15" stroke="#345d9d" stroke-width="0.8" />
<circle cx="136.20" cy="342.97" r="1.8" fill="#345d9d" />
<circle cx="142.50" cy="341.72" r="1.8" fill="#345d9d" />
<circle cx="137.20" cy="350.82" r="1.8" fill="#345d9d" />
<circle cx="142.50" cy="350.82" r="1.8" fill="#345d9d" />
<rect x="149.28" y="361.01" width="9.05" height="11.69" fill="#fff" stroke="#e86a6e" stroke-width="0.95" />
<line x1="153.80" y1="358.92" x2="153.80" y2="362.68" stroke="#dc3f48" stroke-width="0.8" />
<line x1="151.80" y1="358.92" x2="155.80" y2="358.92" stroke="#dc3f48" stroke-width="0.8" />
<line x1="151.80" y1="362.68" x2="155.80" y2="362.68" stroke="#dc3f48" stroke-width="0.8" />
<circle cx="154.00" cy="357.09" r="1.8" fill="#dc3f48" />
<circle cx="152.90" cy="361.84" r="1.8" fill="#dc3f48" />
<circle cx="158.30" cy="361.84" r="1.8" fill="#dc3f48" />
<text x="66.80" y="293.90" font-size="7.5" fill="#151515" stroke="#151515" stroke-width="0.12" text-anchor="middle" letter-spacing="0.6">**</text>
<line x1="61.00" y1="294.10" x2="71.70" y2="294.10" stroke="#6d6e71" stroke-width="0.8" />
<text x="106.80" y="351.90" font-size="7.5" fill="#151515" stroke="#151515" stroke-width="0.12" text-anchor="middle" letter-spacing="0.6">**</text>
<line x1="101.00" y1="352.10" x2="112.50" y2="352.10" stroke="#6d6e71" stroke-width="0.8" />
<text x="146.60" y="333.60" font-size="7.5" fill="#151515" stroke="#151515" stroke-width="0.12" text-anchor="middle" letter-spacing="0.6">**</text>
<line x1="140.80" y1="333.80" x2="151.40" y2="333.80" stroke="#6d6e71" stroke-width="0.8" />
<text x="67.00" y="383.20" font-size="8.6" fill="#151515" stroke="#151515" stroke-width="0.12" text-anchor="middle">G1</text>
<line x1="67.00" y1="372.70" x2="67.00" y2="374.50" stroke="#6d6e71" stroke-width="0.8" />
<text x="106.50" y="383.20" font-size="8.6" fill="#151515" stroke="#151515" stroke-width="0.12" text-anchor="middle">S</text>
<line x1="106.50" y1="372.70" x2="106.50" y2="374.50" stroke="#6d6e71" stroke-width="0.8" />
<text x="146.30" y="383.20" font-size="8.6" fill="#151515" stroke="#151515" stroke-width="0.12" text-anchor="middle">G2/M</text>
<line x1="146.30" y1="372.70" x2="146.30" y2="374.50" stroke="#6d6e71" stroke-width="0.8" />
<circle cx="137.40" cy="288.70" r="1.7" fill="#345d9d" />
<text x="148.00" y="291.80" font-size="8.6" fill="#151515" stroke="#151515" stroke-width="0.12">ev</text>
<circle cx="137.40" cy="301.50" r="1.7" fill="#dc3f48" />
<text x="148.00" y="304.90" font-size="8.6" fill="#151515" stroke="#151515" stroke-width="0.12">sgKAT6A-2</text>
<text x="196.00" y="267.50" font-size="11.3" fill="#000" font-weight="bold">C</text>
<text x="251.00" y="272.60" font-size="8.6" fill="#151515" stroke="#151515" stroke-width="0.12">Colony formation assay</text>
<circle cx="250.00" cy="282.50" r="1.6" fill="#345d9d" />
<text x="258.80" y="285.60" font-size="8.6" fill="#151515" stroke="#151515" stroke-width="0.12">ev</text>
<path d="M273.80,281.31L277.20,281.31L275.50,284.03Z" fill="#dc3f48"/>
<text x="286.00" y="285.60" font-size="8.6" fill="#151515" stroke="#151515" stroke-width="0.12">sgKAT6A-2</text>
<line x1="244.25" y1="373.25" x2="244.25" y2="289.50" stroke="#6d6e71" stroke-width="0.8" />
<line x1="242.25" y1="373.25" x2="244.25" y2="373.25" stroke="#6d6e71" stroke-width="0.8" />
<text x="241.05" y="376.35" font-size="8.6" fill="#151515" stroke="#151515" stroke-width="0.12" text-anchor="end">0</text>
<line x1="242.25" y1="356.60" x2="244.25" y2="356.60" stroke="#6d6e71" stroke-width="0.8" />
<text x="241.05" y="359.70" font-size="8.6" fill="#151515" stroke="#151515" stroke-width="0.12" text-anchor="end">20</text>
<line x1="242.25" y1="339.95" x2="244.25" y2="339.95" stroke="#6d6e71" stroke-width="0.8" />
<text x="241.05" y="343.05" font-size="8.6" fill="#151515" stroke="#151515" stroke-width="0.12" text-anchor="end">40</text>
<line x1="242.25" y1="323.30" x2="244.25" y2="323.30" stroke="#6d6e71" stroke-width="0.8" />
<text x="241.05" y="326.40" font-size="8.6" fill="#151515" stroke="#151515" stroke-width="0.12" text-anchor="end">60</text>
<line x1="242.25" y1="306.65" x2="244.25" y2="306.65" stroke="#6d6e71" stroke-width="0.8" />
<text x="241.05" y="309.75" font-size="8.6" fill="#151515" stroke="#151515" stroke-width="0.12" text-anchor="end">80</text>
<line x1="242.25" y1="290.00" x2="244.25" y2="290.00" stroke="#6d6e71" stroke-width="0.8" />
<text x="241.05" y="293.10" font-size="8.6" fill="#151515" stroke="#151515" stroke-width="0.12" text-anchor="end">100</text>
<line x1="244.25" y1="373.25" x2="320.50" y2="373.25" stroke="#6d6e71" stroke-width="0.8" />
<text transform="translate(223.80,330.70) rotate(-90)" font-size="8.65" fill="#151515" stroke="#151515" stroke-width="0.12" text-anchor="middle">Number of colonies</text>
<rect x="250.47" y="328.30" width="9.05" height="44.95" fill="#fff" stroke="#4f76ae" stroke-width="0.95" />
<line x1="255.00" y1="312.48" x2="255.00" y2="343.28" stroke="#345d9d" stroke-width="0.8" />
<line x1="253.00" y1="312.48" x2="257.00" y2="312.48" stroke="#345d9d" stroke-width="0.8" />
<line x1="253.00" y1="343.28" x2="257.00" y2="343.28" stroke="#345d9d" stroke-width="0.8" />
<circle cx="251.25" cy="313.98" r="1.8" fill="#345d9d" />
<circle cx="258.00" cy="311.48" r="1.8" fill="#345d9d" />
<circle cx="258.00" cy="317.22" r="1.8" fill="#345d9d" />
<circle cx="255.00" cy="332.54" r="1.8" fill="#345d9d" />
<circle cx="253.75" cy="340.03" r="1.8" fill="#345d9d" />
<circle cx="254.50" cy="350.02" r="1.8" fill="#345d9d" />
<rect x="262.48" y="369.09" width="9.05" height="4.16" fill="#fff" stroke="#e86a6e" stroke-width="0.95" />
<line x1="267.00" y1="365.76" x2="267.00" y2="371.58" stroke="#dc3f48" stroke-width="0.8" />
<line x1="265.00" y1="365.76" x2="269.00" y2="365.76" stroke="#dc3f48" stroke-width="0.8" />
<line x1="265.00" y1="371.58" x2="269.00" y2="371.58" stroke="#dc3f48" stroke-width="0.8" />
<path d="M268.30,360.82L271.70,360.82L270.00,363.54Z" fill="#dc3f48"/>
<path d="M264.30,366.23L267.70,366.23L266.00,368.95Z" fill="#dc3f48"/>
<path d="M267.30,367.06L270.70,367.06L269.00,369.78Z" fill="#dc3f48"/>
<path d="M262.30,369.56L265.70,369.56L264.00,372.28Z" fill="#dc3f48"/>
<path d="M266.30,369.98L269.70,369.98L268.00,372.70Z" fill="#dc3f48"/>
<path d="M268.80,370.39L272.20,370.39L270.50,373.11Z" fill="#dc3f48"/>
<rect x="290.98" y="346.61" width="9.05" height="26.64" fill="#fff" stroke="#4f76ae" stroke-width="0.95" />
<line x1="295.50" y1="338.28" x2="295.50" y2="354.94" stroke="#345d9d" stroke-width="0.8" />
<line x1="293.50" y1="338.28" x2="297.50" y2="338.28" stroke="#345d9d" stroke-width="0.8" />
<line x1="293.50" y1="354.94" x2="297.50" y2="354.94" stroke="#345d9d" stroke-width="0.8" />
<circle cx="292.50" cy="336.54" r="1.8" fill="#345d9d" />
<circle cx="298.00" cy="339.03" r="1.8" fill="#345d9d" />
<circle cx="292.00" cy="341.53" r="1.8" fill="#345d9d" />
<circle cx="296.25" cy="346.53" r="1.8" fill="#345d9d" />
<circle cx="295.00" cy="359.93" r="1.8" fill="#345d9d" />
<circle cx="296.50" cy="352.44" r="1.8" fill="#345d9d" />
<rect x="302.98" y="372.00" width="9.05" height="1.25" fill="#fff" stroke="#e86a6e" stroke-width="0.95" />
<path d="M302.80,370.39L306.20,370.39L304.50,373.11Z" fill="#dc3f48"/>
<path d="M304.80,370.81L308.20,370.81L306.50,373.53Z" fill="#dc3f48"/>
<path d="M306.80,370.39L310.20,370.39L308.50,373.11Z" fill="#dc3f48"/>
<path d="M308.80,370.81L312.20,370.81L310.50,373.53Z" fill="#dc3f48"/>
<path d="M305.80,371.23L309.20,371.23L307.50,373.95Z" fill="#dc3f48"/>
<text x="262.80" y="299.70" font-size="7.5" fill="#151515" stroke="#151515" stroke-width="0.12" text-anchor="middle" letter-spacing="0.6">***</text>
<line x1="254.00" y1="301.60" x2="270.50" y2="301.60" stroke="#6d6e71" stroke-width="0.8" />
<text x="302.70" y="326.00" font-size="7.5" fill="#151515" stroke="#151515" stroke-width="0.12" text-anchor="middle" letter-spacing="0.6">***</text>
<line x1="294.60" y1="327.60" x2="310.80" y2="327.60" stroke="#6d6e71" stroke-width="0.8" />
<text x="262.50" y="384.60" font-size="8.6" fill="#151515" stroke="#151515" stroke-width="0.12" text-anchor="middle">2,000</text>
<text x="303.00" y="384.60" font-size="8.6" fill="#151515" stroke="#151515" stroke-width="0.12" text-anchor="middle">1,000</text>
<text x="327.40" y="381.10" font-size="8.6" fill="#151515" stroke="#151515" stroke-width="0.12">(cells)</text>
<text x="373.00" y="267.00" font-size="11.3" fill="#000" font-weight="bold">D</text>
<text x="394.50" y="272.60" font-size="8.6" fill="#151515" stroke="#151515" stroke-width="0.12">β-Galactosidase activity</text>
<line x1="422.50" y1="359.25" x2="422.50" y2="287.00" stroke="#6d6e71" stroke-width="0.8" />
<line x1="420.50" y1="359.25" x2="422.50" y2="359.25" stroke="#6d6e71" stroke-width="0.8" />
<text x="417.50" y="362.35" font-size="8.6" fill="#151515" stroke="#151515" stroke-width="0.12" text-anchor="end">0</text>
<line x1="420.50" y1="325.62" x2="422.50" y2="325.62" stroke="#6d6e71" stroke-width="0.8" />
<text x="417.50" y="328.73" font-size="8.6" fill="#151515" stroke="#151515" stroke-width="0.12" text-anchor="end">500</text>
<line x1="420.50" y1="292.00" x2="422.50" y2="292.00" stroke="#6d6e71" stroke-width="0.8" />
<text x="417.50" y="295.10" font-size="8.6" fill="#151515" stroke="#151515" stroke-width="0.12" text-anchor="end">1,000</text>
<line x1="422.50" y1="359.25" x2="462.50" y2="359.25" stroke="#6d6e71" stroke-width="0.8" />
<text transform="translate(394.50,320.80) rotate(-90)" font-size="8.8" fill="#151515" stroke="#151515" stroke-width="0.12" text-anchor="middle">MFI</text>
<rect x="428.48" y="309.82" width="10.55" height="49.43" fill="#fff" stroke="#4f76ae" stroke-width="0.95" />
<line x1="433.75" y1="304.78" x2="433.75" y2="315.20" stroke="#345d9d" stroke-width="0.8" />
<line x1="431.75" y1="304.78" x2="435.75" y2="304.78" stroke="#345d9d" stroke-width="0.8" />
<line x1="431.75" y1="315.20" x2="435.75" y2="315.20" stroke="#345d9d" stroke-width="0.8" />
<circle cx="433.75" cy="303.77" r="1.8" fill="#345d9d" />
<circle cx="430.00" cy="309.96" r="1.8" fill="#345d9d" />
<circle cx="437.50" cy="310.49" r="1.8" fill="#345d9d" />
<circle cx="433.75" cy="316.21" r="1.8" fill="#345d9d" />
<rect x="445.48" y="293.68" width="10.55" height="65.57" fill="#fff" stroke="#e86a6e" stroke-width="0.95" />
<line x1="450.75" y1="290.32" x2="450.75" y2="297.04" stroke="#dc3f48" stroke-width="0.8" />
<line x1="448.75" y1="290.32" x2="452.75" y2="290.32" stroke="#dc3f48" stroke-width="0.8" />
<line x1="448.75" y1="297.04" x2="452.75" y2="297.04" stroke="#dc3f48" stroke-width="0.8" />
<circle cx="447.50" cy="290.52" r="1.8" fill="#dc3f48" />
<circle cx="455.50" cy="289.51" r="1.8" fill="#dc3f48" />
<circle cx="451.25" cy="295.03" r="1.8" fill="#dc3f48" />
<circle cx="450.00" cy="297.51" r="1.8" fill="#dc3f48" />
<text x="443.10" y="284.30" font-size="7.5" fill="#151515" stroke="#151515" stroke-width="0.12" text-anchor="middle" letter-spacing="0.6">**</text>
<line x1="433.75" y1="284.60" x2="451.35" y2="284.60" stroke="#6d6e71" stroke-width="0.8" />
<line x1="433.75" y1="359.25" x2="433.75" y2="361.25" stroke="#6d6e71" stroke-width="0.8" />
<line x1="450.75" y1="359.25" x2="450.75" y2="361.25" stroke="#6d6e71" stroke-width="0.8" />
<text transform="translate(436.20,366.00) rotate(-45)" font-size="8.6" fill="#151515" stroke="#151515" stroke-width="0.12" text-anchor="end">ev</text>
<text transform="translate(453.20,367.00) rotate(-45)" font-size="8.6" fill="#151515" stroke="#151515" stroke-width="0.12" text-anchor="end">sgKAT6A</text>
<text x="0.40" y="406.70" font-size="11.3" fill="#000" font-weight="bold">E</text>
<line x1="48.30" y1="501.00" x2="48.30" y2="408.50" stroke="#6d6e71" stroke-width="0.8" />
<line x1="46.30" y1="501.00" x2="48.30" y2="501.00" stroke="#6d6e71" stroke-width="0.8" />
<text x="45.10" y="504.10" font-size="8.6" fill="#151515" stroke="#151515" stroke-width="0.12" text-anchor="end">0</text>
<line x1="46.30" y1="487.89" x2="48.30" y2="487.89" stroke="#6d6e71" stroke-width="0.8" />
<text x="45.10" y="490.99" font-size="8.6" fill="#151515" stroke="#151515" stroke-width="0.12" text-anchor="end">100</text>
<line x1="46.30" y1="474.77" x2="48.30" y2="474.77" stroke="#6d6e71" stroke-width="0.8" />
<text x="45.10" y="477.87" font-size="8.6" fill="#151515" stroke="#151515" stroke-width="0.12" text-anchor="end">200</text>
<line x1="46.30" y1="461.66" x2="48.30" y2="461.66" stroke="#6d6e71" stroke-width="0.8" />
<text x="45.10" y="464.76" font-size="8.6" fill="#151515" stroke="#151515" stroke-width="0.12" text-anchor="end">300</text>
<line x1="46.30" y1="448.54" x2="48.30" y2="448.54" stroke="#6d6e71" stroke-width="0.8" />
<text x="45.10" y="451.64" font-size="8.6" fill="#151515" stroke="#151515" stroke-width="0.12" text-anchor="end">400</text>
<line x1="46.30" y1="435.43" x2="48.30" y2="435.43" stroke="#6d6e71" stroke-width="0.8" />
<text x="45.10" y="438.53" font-size="8.6" fill="#151515" stroke="#151515" stroke-width="0.12" text-anchor="end">500</text>
<line x1="46.30" y1="422.31" x2="48.30" y2="422.31" stroke="#6d6e71" stroke-width="0.8" />
<text x="45.10" y="425.41" font-size="8.6" fill="#151515" stroke="#151515" stroke-width="0.12" text-anchor="end">600</text>
<line x1="46.30" y1="409.20" x2="48.30" y2="409.20" stroke="#6d6e71" stroke-width="0.8" />
<text x="45.10" y="412.30" font-size="8.6" fill="#151515" stroke="#151515" stroke-width="0.12" text-anchor="end">700</text>
<line x1="48.30" y1="501.00" x2="146.00" y2="501.00" stroke="#6d6e71" stroke-width="0.8" />
<line x1="50.30" y1="501.00" x2="50.30" y2="503.00" stroke="#6d6e71" stroke-width="0.8" />
<text x="50.30" y="511.00" font-size="8.6" fill="#151515" stroke="#151515" stroke-width="0.12" text-anchor="middle">0</text>
<line x1="73.97" y1="501.00" x2="73.97" y2="503.00" stroke="#6d6e71" stroke-width="0.8" />
<text x="73.97" y="511.00" font-size="8.6" fill="#151515" stroke="#151515" stroke-width="0.12" text-anchor="middle">5</text>
<line x1="97.65" y1="501.00" x2="97.65" y2="503.00" stroke="#6d6e71" stroke-width="0.8" />
<text x="97.65" y="511.00" font-size="8.6" fill="#151515" stroke="#151515" stroke-width="0.12" text-anchor="middle">10</text>
<line x1="121.33" y1="501.00" x2="121.33" y2="503.00" stroke="#6d6e71" stroke-width="0.8" />
<text x="121.33" y="511.00" font-size="8.6" fill="#151515" stroke="#151515" stroke-width="0.12" text-anchor="middle">15</text>
<line x1="145.00" y1="501.00" x2="145.00" y2="503.00" stroke="#6d6e71" stroke-width="0.8" />
<text x="145.00" y="511.00" font-size="8.6" fill="#151515" stroke="#151515" stroke-width="0.12" text-anchor="middle">20</text>
<text x="95.65" y="520.50" font-size="8.6" fill="#151515" stroke="#151515" stroke-width="0.12" text-anchor="middle">Days after transplantation</text>
<text transform="translate(18.00,453.70) rotate(-90)" font-size="8.7" fill="#151515" stroke="#151515" stroke-width="0.12" text-anchor="middle">Normalized</text>
<text transform="translate(28.60,454.50) rotate(-90)" font-size="8.7" fill="#151515" stroke="#151515" stroke-width="0.12" text-anchor="middle">bioluminescence</text>
<polyline points="59.77,501.00 78.71,501.00 97.65,499.69 116.59,483.95 126.06,478.05" fill="none" stroke="#dc3f48" stroke-width="1.0" stroke-linejoin="round" />
<polyline points="59.77,501.00 78.71,501.00 97.65,496.41 116.59,464.94 126.06,427.56" fill="none" stroke="#345d9d" stroke-width="1.0" stroke-linejoin="round" />
<circle cx="59.77" cy="501.00" r="1.8" fill="#dc3f48" />
<circle cx="78.71" cy="501.00" r="1.8" fill="#dc3f48" />
<circle cx="97.65" cy="499.69" r="1.8" fill="#dc3f48" />
<line x1="116.59" y1="478.71" x2="116.59" y2="489.20" stroke="#f0a090" stroke-width="0.8" />
<line x1="114.59" y1="478.71" x2="118.59" y2="478.71" stroke="#f0a090" stroke-width="0.8" />
<line x1="114.59" y1="489.20" x2="118.59" y2="489.20" stroke="#f0a090" stroke-width="0.8" />
<circle cx="116.59" cy="483.95" r="1.8" fill="#dc3f48" />
<line x1="126.06" y1="469.53" x2="126.06" y2="486.57" stroke="#f0a090" stroke-width="0.8" />
<line x1="124.06" y1="469.53" x2="128.06" y2="469.53" stroke="#f0a090" stroke-width="0.8" />
<line x1="124.06" y1="486.57" x2="128.06" y2="486.57" stroke="#f0a090" stroke-width="0.8" />
<circle cx="126.06" cy="478.05" r="1.8" fill="#dc3f48" />
<circle cx="59.77" cy="501.00" r="1.8" fill="#345d9d" />
<circle cx="78.71" cy="501.00" r="1.8" fill="#345d9d" />
<circle cx="97.65" cy="496.41" r="1.8" fill="#345d9d" />
<line x1="116.59" y1="456.41" x2="116.59" y2="473.46" stroke="#8aaad8" stroke-width="0.8" />
<line x1="114.59" y1="456.41" x2="118.59" y2="456.41" stroke="#8aaad8" stroke-width="0.8" />
<line x1="114.59" y1="473.46" x2="118.59" y2="473.46" stroke="#8aaad8" stroke-width="0.8" />
<circle cx="116.59" cy="464.94" r="1.8" fill="#345d9d" />
<line x1="126.06" y1="411.82" x2="126.06" y2="443.30" stroke="#8aaad8" stroke-width="0.8" />
<line x1="124.06" y1="411.82" x2="128.06" y2="411.82" stroke="#8aaad8" stroke-width="0.8" />
<line x1="124.06" y1="443.30" x2="128.06" y2="443.30" stroke="#8aaad8" stroke-width="0.8" />
<circle cx="126.06" cy="427.56" r="1.8" fill="#345d9d" />
<line x1="57.00" y1="420.00" x2="66.00" y2="420.00" stroke="#345d9d" stroke-width="1.0" />
<circle cx="61.50" cy="420.00" r="1.8" fill="#345d9d" />
<text x="69.20" y="423.10" font-size="8.6" fill="#151515" stroke="#151515" stroke-width="0.12">ev</text>
<line x1="57.00" y1="433.00" x2="66.00" y2="433.00" stroke="#dc3f48" stroke-width="1.0" />
<circle cx="61.50" cy="433.00" r="1.8" fill="#dc3f48" />
<text x="69.20" y="436.10" font-size="8.6" fill="#151515" stroke="#151515" stroke-width="0.12">sgKAT6A</text>
<text x="139.15" y="482.40" font-size="7.5" fill="#151515" stroke="#151515" stroke-width="0.12" text-anchor="middle" letter-spacing="0.6">***</text>
<text x="157.95" y="407.00" font-size="11.3" fill="#000" font-weight="bold">F</text>
<text x="188.80" y="407.30" font-size="8.6" fill="#151515" stroke="#151515" stroke-width="0.12">Day 16</text>
<text transform="translate(184.60,436.80) rotate(-90)" font-size="8.6" fill="#4a78c0" stroke="#4a78c0" stroke-width="0.12" text-anchor="middle">ev</text>
<text transform="translate(182.90,493.10) rotate(-90)" font-size="8.6" fill="#e8605e" stroke="#e8605e" stroke-width="0.12" text-anchor="middle">sgKAT6A</text>
<defs><filter id="mb" x="-20%" y="-20%" width="140%" height="140%"><feGaussianBlur stdDeviation="0.55"/></filter><filter id="mb2" x="-20%" y="-20%" width="140%" height="140%"><feGaussianBlur stdDeviation="0.35"/></filter></defs><rect x="187.2" y="410.9" width="152.5" height="50.9" fill="#1e1e20"/><rect x="187.2" y="466" width="152.5" height="50.8" fill="#1e1e20"/><path d="M198.0,439.5 Q198.0,450.5 198.0,461.0" stroke="#a8a8b8" stroke-width="0.8" fill="none"/><path d="M193.5,438.0 l-3,2.2 M202.5,438.0 l3,2.2 M193.0,421.5 l-2.2,-0.8 M203.0,421.5 l2.2,-0.8" stroke="#3a3fc8" stroke-width="1.1" stroke-linecap="round" fill="none"/><clipPath id="mp198_412"><path d="M198.00,412.50 L199.55,412.89 L200.65,414.26 L201.21,416.01 L202.31,416.40 L202.09,417.96 L203.42,419.82 L204.08,422.74 L204.30,427.13 L204.19,432.01 L203.86,435.91 L203.08,438.45 L201.54,439.82 L199.33,440.40 L198.00,440.50 L196.67,440.40 L194.46,439.82 L192.92,438.45 L192.14,435.91 L191.81,432.01 L191.70,427.13 L191.92,422.74 L192.58,419.82 L193.91,417.96 L193.69,416.40 L194.79,416.01 L195.35,414.26 L196.45,412.89Z"/></clipPath><path d="M198.00,412.50 L199.55,412.89 L200.65,414.26 L201.21,416.01 L202.31,416.40 L202.09,417.96 L203.42,419.82 L204.08,422.74 L204.30,427.13 L204.19,432.01 L203.86,435.91 L203.08,438.45 L201.54,439.82 L199.33,440.40 L198.00,440.50 L196.67,440.40 L194.46,439.82 L192.92,438.45 L192.14,435.91 L191.81,432.01 L191.70,427.13 L191.92,422.74 L192.58,419.82 L193.91,417.96 L193.69,416.40 L194.79,416.01 L195.35,414.26 L196.45,412.89Z" fill="#3a3fc8" filter="url(#mb2)"/><g clip-path="url(#mp198_412)"><g filter="url(#mb)"><circle cx="198.00" cy="421.50" r="4" fill="#38b0e8"/><circle cx="197.00" cy="426.50" r="5.5" fill="#40c0e8"/><circle cx="198.50" cy="425.50" r="3.6" fill="#f0c030"/><circle cx="198.50" cy="425.50" r="2.4" fill="#e82818"/><circle cx="196.00" cy="434.50" r="4.5" fill="#40c0e0"/><circle cx="194.50" cy="435.00" r="3.2" fill="#f0b030"/><circle cx="194.50" cy="435.00" r="2.1" fill="#e03020"/><circle cx="202.00" cy="432.50" r="2.2" fill="#8060d0"/><circle cx="200.00" cy="438.50" r="2.2" fill="#50c0e0"/><circle cx="202.00" cy="422.50" r="1.5" fill="#8080e0"/></g></g><path d="M218.5,439.5 Q218.7,450.5 219.5,461.0" stroke="#a8a8b8" stroke-width="0.8" fill="none"/><path d="M214.0,438.0 l-3,2.2 M223.0,438.0 l3,2.2 M213.5,421.5 l-2.2,-0.8 M223.5,421.5 l2.2,-0.8" stroke="#3a3fc8" stroke-width="1.1" stroke-linecap="round" fill="none"/><clipPath id="mp218_412"><path d="M218.50,412.50 L220.05,412.89 L221.15,414.26 L221.71,416.01 L222.81,416.40 L222.59,417.96 L223.92,419.82 L224.58,422.74 L224.80,427.13 L224.69,432.01 L224.36,435.91 L223.58,438.45 L222.04,439.82 L219.83,440.40 L218.50,440.50 L217.17,440.40 L214.96,439.82 L213.42,438.45 L212.64,435.91 L212.31,432.01 L212.20,427.13 L212.42,422.74 L213.08,419.82 L214.41,417.96 L214.19,416.40 L215.29,416.01 L215.85,414.26 L216.95,412.89Z"/></clipPath><path d="M218.50,412.50 L220.05,412.89 L221.15,414.26 L221.71,416.01 L222.81,416.40 L222.59,417.96 L223.92,419.82 L224.58,422.74 L224.80,427.13 L224.69,432.01 L224.36,435.91 L223.58,438.45 L222.04,439.82 L219.83,440.40 L218.50,440.50 L217.17,440.40 L214.96,439.82 L213.42,438.45 L212.64,435.91 L212.31,432.01 L212.20,427.13 L212.42,422.74 L213.08,419.82 L214.41,417.96 L214.19,416.40 L215.29,416.01 L215.85,414.26 L216.95,412.89Z" fill="#3a3fc8" filter="url(#mb2)"/><g clip-path="url(#mp218_412)"><g filter="url(#mb)"><circle cx="218.50" cy="419.50" r="3" fill="#40c0e0"/><circle cx="218.50" cy="426.50" r="4.5" fill="#40c0e0"/><circle cx="218.50" cy="426.50" r="3.2" fill="#b8d840"/><circle cx="218.50" cy="426.50" r="1.8" fill="#e86020"/><circle cx="218.50" cy="435.50" r="5.5" fill="#40c0e0"/><circle cx="218.50" cy="436.50" r="4.2" fill="#a0d850"/><circle cx="215.00" cy="434.50" r="2.3" fill="#f0d040"/><circle cx="215.00" cy="434.50" r="1.3" fill="#e03020"/><circle cx="221.50" cy="432.50" r="1.6" fill="#5070e0"/></g></g><path d="M242.0,439.5 Q241.6,450.5 240.0,461.0" stroke="#a8a8b8" stroke-width="0.8" fill="none"/><path d="M237.5,438.0 l-3,2.2 M246.5,438.0 l3,2.2 M237.0,421.5 l-2.2,-0.8 M247.0,421.5 l2.2,-0.8" stroke="#3a3fc8" stroke-width="1.1" stroke-linecap="round" fill="none"/><clipPath id="mp242_412"><path d="M242.00,412.50 L243.55,412.89 L244.65,414.26 L245.21,416.01 L246.31,416.40 L246.09,417.96 L247.42,419.82 L248.08,422.74 L248.30,427.13 L248.19,432.01 L247.86,435.91 L247.08,438.45 L245.54,439.82 L243.33,440.40 L242.00,440.50 L240.67,440.40 L238.46,439.82 L236.92,438.45 L236.14,435.91 L235.81,432.01 L235.70,427.13 L235.92,422.74 L236.58,419.82 L237.91,417.96 L237.69,416.40 L238.79,416.01 L239.35,414.26 L240.45,412.89Z"/></clipPath><path d="M242.00,412.50 L243.55,412.89 L244.65,414.26 L245.21,416.01 L246.31,416.40 L246.09,417.96 L247.42,419.82 L248.08,422.74 L248.30,427.13 L248.19,432.01 L247.86,435.91 L247.08,438.45 L245.54,439.82 L243.33,440.40 L242.00,440.50 L240.67,440.40 L238.46,439.82 L236.92,438.45 L236.14,435.91 L235.81,432.01 L235.70,427.13 L235.92,422.74 L236.58,419.82 L237.91,417.96 L237.69,416.40 L238.79,416.01 L239.35,414.26 L240.45,412.89Z" fill="#3a3fc8" filter="url(#mb2)"/><g clip-path="url(#mp242_412)"><g filter="url(#mb)"><circle cx="242.00" cy="418.50" r="3" fill="#40b0e0"/><circle cx="241.50" cy="425.00" r="4.5" fill="#40c0e0"/><circle cx="241.50" cy="425.00" r="2.6" fill="#f0a020"/><circle cx="241.50" cy="425.00" r="1.5" fill="#e03020"/><circle cx="241.00" cy="419.50" r="1.6" fill="#f0a020"/><circle cx="243.00" cy="431.50" r="3.5" fill="#3fa8e0"/><circle cx="245.00" cy="436.00" r="3.2" fill="#f0c030"/><circle cx="245.00" cy="436.00" r="2.0" fill="#e03020"/><circle cx="240.00" cy="435.50" r="2.5" fill="#4080e0"/></g></g><path d="M263.5,439.5 Q262.9,450.5 260.5,461.0" stroke="#a8a8b8" stroke-width="0.8" fill="none"/><path d="M259.0,438.0 l-3,2.2 M268.0,438.0 l3,2.2 M258.5,421.5 l-2.2,-0.8 M268.5,421.5 l2.2,-0.8" stroke="#3840c0" stroke-width="1.1" stroke-linecap="round" fill="none"/><clipPath id="mp263_412"><path d="M263.50,412.50 L265.05,412.89 L266.15,414.26 L266.71,416.01 L267.81,416.40 L267.59,417.96 L268.92,419.82 L269.58,422.74 L269.80,427.13 L269.69,432.01 L269.36,435.91 L268.58,438.45 L267.04,439.82 L264.83,440.40 L263.50,440.50 L262.17,440.40 L259.96,439.82 L258.42,438.45 L257.64,435.91 L257.31,432.01 L257.20,427.13 L257.42,422.74 L258.08,419.82 L259.41,417.96 L259.19,416.40 L260.29,416.01 L260.85,414.26 L261.95,412.89Z"/></clipPath><path d="M263.50,412.50 L265.05,412.89 L266.15,414.26 L266.71,416.01 L267.81,416.40 L267.59,417.96 L268.92,419.82 L269.58,422.74 L269.80,427.13 L269.69,432.01 L269.36,435.91 L268.58,438.45 L267.04,439.82 L264.83,440.40 L263.50,440.50 L262.17,440.40 L259.96,439.82 L258.42,438.45 L257.64,435.91 L257.31,432.01 L257.20,427.13 L257.42,422.74 L258.08,419.82 L259.41,417.96 L259.19,416.40 L260.29,416.01 L260.85,414.26 L261.95,412.89Z" fill="#3840c0" filter="url(#mb2)"/><g clip-path="url(#mp263_412)"><g filter="url(#mb)"><circle cx="261.20" cy="422.50" r="2.4" fill="#40d0d0"/><circle cx="265.80" cy="422.50" r="2.4" fill="#40d0d0"/><circle cx="261.20" cy="422.50" r="1.3" fill="#f07020"/><circle cx="265.80" cy="422.50" r="1.3" fill="#f07020"/><circle cx="261.00" cy="430.50" r="1.1" fill="#d0d0ff"/><circle cx="264.50" cy="436.50" r="1.1" fill="#c0c0f0"/><circle cx="265.50" cy="427.50" r="1.5" fill="#6070e0"/></g></g><path d="M285.0,439.5 Q285.6,450.5 288.0,461.0" stroke="#a8a8b8" stroke-width="0.8" fill="none"/><path d="M280.5,438.0 l-3,2.2 M289.5,438.0 l3,2.2 M280.0,421.5 l-2.2,-0.8 M290.0,421.5 l2.2,-0.8" stroke="#3840c8" stroke-width="1.1" stroke-linecap="round" fill="none"/><clipPath id="mp285_412"><path d="M285.00,412.50 L286.55,412.89 L287.65,414.26 L288.21,416.01 L289.31,416.40 L289.09,417.96 L290.42,419.82 L291.08,422.74 L291.30,427.13 L291.19,432.01 L290.86,435.91 L290.08,438.45 L288.54,439.82 L286.33,440.40 L285.00,440.50 L283.67,440.40 L281.46,439.82 L279.92,438.45 L279.14,435.91 L278.81,432.01 L278.70,427.13 L278.92,422.74 L279.58,419.82 L280.91,417.96 L280.69,416.40 L281.79,416.01 L282.35,414.26 L283.45,412.89Z"/></clipPath><path d="M285.00,412.50 L286.55,412.89 L287.65,414.26 L288.21,416.01 L289.31,416.40 L289.09,417.96 L290.42,419.82 L291.08,422.74 L291.30,427.13 L291.19,432.01 L290.86,435.91 L290.08,438.45 L288.54,439.82 L286.33,440.40 L285.00,440.50 L283.67,440.40 L281.46,439.82 L279.92,438.45 L279.14,435.91 L278.81,432.01 L278.70,427.13 L278.92,422.74 L279.58,419.82 L280.91,417.96 L280.69,416.40 L281.79,416.01 L282.35,414.26 L283.45,412.89Z" fill="#3840c8" filter="url(#mb2)"/><g clip-path="url(#mp285_412)"><g filter="url(#mb)"><circle cx="287.50" cy="422.50" r="2.8" fill="#40c0c0"/><circle cx="287.50" cy="422.50" r="1.5" fill="#e0d040"/><circle cx="285.00" cy="430.50" r="2.2" fill="#40a0e0"/><circle cx="284.00" cy="436.50" r="1.3" fill="#a0a0f0"/><circle cx="282.50" cy="420.50" r="1.5" fill="#4090e0"/></g></g><path d="M307.0,439.5 Q307.4,450.5 309.0,461.0" stroke="#a8a8b8" stroke-width="0.8" fill="none"/><path d="M302.5,438.0 l-3,2.2 M311.5,438.0 l3,2.2 M302.0,421.5 l-2.2,-0.8 M312.0,421.5 l2.2,-0.8" stroke="#3a48d0" stroke-width="1.1" stroke-linecap="round" fill="none"/><clipPath id="mp307_412"><path d="M307.00,412.50 L308.55,412.89 L309.65,414.26 L310.21,416.01 L311.31,416.40 L311.09,417.96 L312.42,419.82 L313.08,422.74 L313.30,427.13 L313.19,432.01 L312.86,435.91 L312.08,438.45 L310.54,439.82 L308.33,440.40 L307.00,440.50 L305.67,440.40 L303.46,439.82 L301.92,438.45 L301.14,435.91 L300.81,432.01 L300.70,427.13 L300.92,422.74 L301.58,419.82 L302.91,417.96 L302.69,416.40 L303.79,416.01 L304.35,414.26 L305.45,412.89Z"/></clipPath><path d="M307.00,412.50 L308.55,412.89 L309.65,414.26 L310.21,416.01 L311.31,416.40 L311.09,417.96 L312.42,419.82 L313.08,422.74 L313.30,427.13 L313.19,432.01 L312.86,435.91 L312.08,438.45 L310.54,439.82 L308.33,440.40 L307.00,440.50 L305.67,440.40 L303.46,439.82 L301.92,438.45 L301.14,435.91 L300.81,432.01 L300.70,427.13 L300.92,422.74 L301.58,419.82 L302.91,417.96 L302.69,416.40 L303.79,416.01 L304.35,414.26 L305.45,412.89Z" fill="#3a48d0" filter="url(#mb2)"/><g clip-path="url(#mp307_412)"><g filter="url(#mb)"><circle cx="305.50" cy="422.50" r="4.2" fill="#50c0a0"/><circle cx="305.50" cy="422.50" r="3.0" fill="#e8a020"/><circle cx="305.50" cy="422.50" r="2.1" fill="#e02818"/><circle cx="307.00" cy="432.00" r="6.5" fill="#3a48d0"/><ellipse cx="307.00" cy="431.50" rx="6.5" ry="2.6" fill="#f0f0f4"/></g></g><path d="M329.6,439.5 Q328.0,450.5 321.6,461.0" stroke="#a8a8b8" stroke-width="0.8" fill="none"/><path d="M325.1,438.0 l-3,2.2 M334.1,438.0 l3,2.2 M324.6,421.5 l-2.2,-0.8 M334.6,421.5 l2.2,-0.8" stroke="#cfcfd2" stroke-width="1.1" stroke-linecap="round" fill="none"/><clipPath id="mp329_412"><path d="M329.60,412.50 L331.15,412.89 L332.25,414.26 L332.81,416.01 L333.91,416.40 L333.69,417.96 L335.02,419.82 L335.68,422.74 L335.90,427.13 L335.79,432.01 L335.46,435.91 L334.68,438.45 L333.14,439.82 L330.93,440.40 L329.60,440.50 L328.27,440.40 L326.06,439.82 L324.52,438.45 L323.74,435.91 L323.41,432.01 L323.30,427.13 L323.52,422.74 L324.18,419.82 L325.51,417.96 L325.29,416.40 L326.39,416.01 L326.95,414.26 L328.05,412.89Z"/></clipPath><path d="M329.60,412.50 L331.15,412.89 L332.25,414.26 L332.81,416.01 L333.91,416.40 L333.69,417.96 L335.02,419.82 L335.68,422.74 L335.90,427.13 L335.79,432.01 L335.46,435.91 L334.68,438.45 L333.14,439.82 L330.93,440.40 L329.60,440.50 L328.27,440.40 L326.06,439.82 L324.52,438.45 L323.74,435.91 L323.41,432.01 L323.30,427.13 L323.52,422.74 L324.18,419.82 L325.51,417.96 L325.29,416.40 L326.39,416.01 L326.95,414.26 L328.05,412.89Z" fill="#cfcfd2" filter="url(#mb2)"/><g clip-path="url(#mp329_412)"><g filter="url(#mb)"><ellipse cx="330.10" cy="427.50" rx="3.8" ry="11" fill="#f2f2f3"/><circle cx="330.10" cy="424.00" r="4.0" fill="#3050d0"/><circle cx="330.10" cy="424.00" r="2.2" fill="#70b0f0"/></g></g><path d="M198.0,494.0 Q197.4,505.0 195.0,516.5" stroke="#b4b4bc" stroke-width="0.8" fill="none"/><path d="M193.5,492.5 l-3,2.2 M202.5,492.5 l3,2.2 M193.0,476.0 l-2.2,-0.8 M203.0,476.0 l2.2,-0.8" stroke="#3a3fc8" stroke-width="1.1" stroke-linecap="round" fill="none"/><clipPath id="mp198_467"><path d="M198.00,467.00 L199.55,467.39 L200.65,468.76 L201.21,470.51 L202.31,470.90 L202.09,472.46 L203.42,474.32 L204.08,477.24 L204.30,481.63 L204.19,486.51 L203.86,490.41 L203.08,492.95 L201.54,494.32 L199.33,494.90 L198.00,495.00 L196.67,494.90 L194.46,494.32 L192.92,492.95 L192.14,490.41 L191.81,486.51 L191.70,481.63 L191.92,477.24 L192.58,474.32 L193.91,472.46 L193.69,470.90 L194.79,470.51 L195.35,468.76 L196.45,467.39Z"/></clipPath><path d="M198.00,467.00 L199.55,467.39 L200.65,468.76 L201.21,470.51 L202.31,470.90 L202.09,472.46 L203.42,474.32 L204.08,477.24 L204.30,481.63 L204.19,486.51 L203.86,490.41 L203.08,492.95 L201.54,494.32 L199.33,494.90 L198.00,495.00 L196.67,494.90 L194.46,494.32 L192.92,492.95 L192.14,490.41 L191.81,486.51 L191.70,481.63 L191.92,477.24 L192.58,474.32 L193.91,472.46 L193.69,470.90 L194.79,470.51 L195.35,468.76 L196.45,467.39Z" fill="#3a3fc8" filter="url(#mb2)"/><g clip-path="url(#mp198_467)"><g filter="url(#mb)"><circle cx="197.00" cy="472.00" r="2" fill="#5060e0"/><circle cx="195.50" cy="486.00" r="1.4" fill="#e0e0f0"/><circle cx="200.50" cy="488.00" r="1.4" fill="#e0e0f0"/><circle cx="198.00" cy="492.00" r="2" fill="#2830b0"/></g></g><path d="M220.0,494.0 Q221.2,505.0 226.0,516.5" stroke="#b4b4bc" stroke-width="0.8" fill="none"/><path d="M215.5,492.5 l-3,2.2 M224.5,492.5 l3,2.2 M215.0,476.0 l-2.2,-0.8 M225.0,476.0 l2.2,-0.8" stroke="#3a3fc8" stroke-width="1.1" stroke-linecap="round" fill="none"/><clipPath id="mp220_467"><path d="M220.00,467.00 L221.55,467.39 L222.65,468.76 L223.21,470.51 L224.31,470.90 L224.09,472.46 L225.42,474.32 L226.08,477.24 L226.30,481.63 L226.19,486.51 L225.86,490.41 L225.08,492.95 L223.54,494.32 L221.33,494.90 L220.00,495.00 L218.67,494.90 L216.46,494.32 L214.92,492.95 L214.14,490.41 L213.81,486.51 L213.70,481.63 L213.92,477.24 L214.58,474.32 L215.91,472.46 L215.69,470.90 L216.79,470.51 L217.35,468.76 L218.45,467.39Z"/></clipPath><path d="M220.00,467.00 L221.55,467.39 L222.65,468.76 L223.21,470.51 L224.31,470.90 L224.09,472.46 L225.42,474.32 L226.08,477.24 L226.30,481.63 L226.19,486.51 L225.86,490.41 L225.08,492.95 L223.54,494.32 L221.33,494.90 L220.00,495.00 L218.67,494.90 L216.46,494.32 L214.92,492.95 L214.14,490.41 L213.81,486.51 L213.70,481.63 L213.92,477.24 L214.58,474.32 L215.91,472.46 L215.69,470.90 L216.79,470.51 L217.35,468.76 L218.45,467.39Z" fill="#3a3fc8" filter="url(#mb2)"/><g clip-path="url(#mp220_467)"><g filter="url(#mb)"><circle cx="220.00" cy="474.00" r="1.8" fill="#60a0f0"/><ellipse cx="220.00" cy="486.50" rx="6" ry="1.8" fill="#ececf4"/></g></g><path d="M243.0,494.0 Q242.0,505.0 238.0,516.5" stroke="#b4b4bc" stroke-width="0.8" fill="none"/><path d="M238.5,492.5 l-3,2.2 M247.5,492.5 l3,2.2 M238.0,476.0 l-2.2,-0.8 M248.0,476.0 l2.2,-0.8" stroke="#3a3fc8" stroke-width="1.1" stroke-linecap="round" fill="none"/><clipPath id="mp243_467"><path d="M243.00,467.00 L244.55,467.39 L245.65,468.76 L246.21,470.51 L247.31,470.90 L247.09,472.46 L248.42,474.32 L249.08,477.24 L249.30,481.63 L249.19,486.51 L248.86,490.41 L248.08,492.95 L246.54,494.32 L244.33,494.90 L243.00,495.00 L241.67,494.90 L239.46,494.32 L237.92,492.95 L237.14,490.41 L236.81,486.51 L236.70,481.63 L236.92,477.24 L237.58,474.32 L238.91,472.46 L238.69,470.90 L239.79,470.51 L240.35,468.76 L241.45,467.39Z"/></clipPath><path d="M243.00,467.00 L244.55,467.39 L245.65,468.76 L246.21,470.51 L247.31,470.90 L247.09,472.46 L248.42,474.32 L249.08,477.24 L249.30,481.63 L249.19,486.51 L248.86,490.41 L248.08,492.95 L246.54,494.32 L244.33,494.90 L243.00,495.00 L241.67,494.90 L239.46,494.32 L237.92,492.95 L237.14,490.41 L236.81,486.51 L236.70,481.63 L236.92,477.24 L237.58,474.32 L238.91,472.46 L238.69,470.90 L239.79,470.51 L240.35,468.76 L241.45,467.39Z" fill="#3a3fc8" filter="url(#mb2)"/><g clip-path="url(#mp243_467)"><g filter="url(#mb)"><circle cx="243.00" cy="472.00" r="1.8" fill="#5060e0"/><circle cx="240.00" cy="490.00" r="1.5" fill="#c0c0e0"/><ellipse cx="243.00" cy="484.50" rx="6" ry="1.8" fill="#ececf4"/></g></g><path d="M263.0,494.0 Q263.4,505.0 265.0,516.5" stroke="#b4b4bc" stroke-width="0.8" fill="none"/><path d="M258.5,492.5 l-3,2.2 M267.5,492.5 l3,2.2 M258.0,476.0 l-2.2,-0.8 M268.0,476.0 l2.2,-0.8" stroke="#3a3fc8" stroke-width="1.1" stroke-linecap="round" fill="none"/><clipPath id="mp263_467"><path d="M263.00,467.00 L264.55,467.39 L265.65,468.76 L266.21,470.51 L267.31,470.90 L267.09,472.46 L268.42,474.32 L269.08,477.24 L269.30,481.63 L269.19,486.51 L268.86,490.41 L268.08,492.95 L266.54,494.32 L264.33,494.90 L263.00,495.00 L261.67,494.90 L259.46,494.32 L257.92,492.95 L257.14,490.41 L256.81,486.51 L256.70,481.63 L256.92,477.24 L257.58,474.32 L258.91,472.46 L258.69,470.90 L259.79,470.51 L260.35,468.76 L261.45,467.39Z"/></clipPath><path d="M263.00,467.00 L264.55,467.39 L265.65,468.76 L266.21,470.51 L267.31,470.90 L267.09,472.46 L268.42,474.32 L269.08,477.24 L269.30,481.63 L269.19,486.51 L268.86,490.41 L268.08,492.95 L266.54,494.32 L264.33,494.90 L263.00,495.00 L261.67,494.90 L259.46,494.32 L257.92,492.95 L257.14,490.41 L256.81,486.51 L256.70,481.63 L256.92,477.24 L257.58,474.32 L258.91,472.46 L258.69,470.90 L259.79,470.51 L260.35,468.76 L261.45,467.39Z" fill="#3a3fc8" filter="url(#mb2)"/><g clip-path="url(#mp263_467)"><g filter="url(#mb)"><circle cx="263.00" cy="474.00" r="2.5" fill="#40a8e0"/><circle cx="261.00" cy="488.00" r="1.2" fill="#c0c0d0"/><ellipse cx="263.00" cy="487.50" rx="6" ry="1.8" fill="#ececf4"/></g></g><path d="M285.4,494.0 Q285.4,505.0 285.4,516.5" stroke="#b4b4bc" stroke-width="0.8" fill="none"/><path d="M280.9,492.5 l-3,2.2 M289.9,492.5 l3,2.2 M280.4,476.0 l-2.2,-0.8 M290.4,476.0 l2.2,-0.8" stroke="#cfcfd2" stroke-width="1.1" stroke-linecap="round" fill="none"/><clipPath id="mp285_467"><path d="M285.40,467.00 L286.95,467.39 L288.05,468.76 L288.61,470.51 L289.71,470.90 L289.49,472.46 L290.82,474.32 L291.48,477.24 L291.70,481.63 L291.59,486.51 L291.26,490.41 L290.48,492.95 L288.94,494.32 L286.73,494.90 L285.40,495.00 L284.07,494.90 L281.86,494.32 L280.32,492.95 L279.54,490.41 L279.21,486.51 L279.10,481.63 L279.32,477.24 L279.98,474.32 L281.31,472.46 L281.09,470.90 L282.19,470.51 L282.75,468.76 L283.85,467.39Z"/></clipPath><path d="M285.40,467.00 L286.95,467.39 L288.05,468.76 L288.61,470.51 L289.71,470.90 L289.49,472.46 L290.82,474.32 L291.48,477.24 L291.70,481.63 L291.59,486.51 L291.26,490.41 L290.48,492.95 L288.94,494.32 L286.73,494.90 L285.40,495.00 L284.07,494.90 L281.86,494.32 L280.32,492.95 L279.54,490.41 L279.21,486.51 L279.10,481.63 L279.32,477.24 L279.98,474.32 L281.31,472.46 L281.09,470.90 L282.19,470.51 L282.75,468.76 L283.85,467.39Z" fill="#cfcfd2" filter="url(#mb2)"/><g clip-path="url(#mp285_467)"><g filter="url(#mb)"><ellipse cx="285.90" cy="482.00" rx="3.8" ry="11" fill="#f2f2f3"/><circle cx="281.90" cy="479.00" r="1.8" fill="#4048c0"/><circle cx="284.40" cy="492.00" r="2.4" fill="#4048c0"/></g></g><path d="M306.0,494.0 Q305.2,505.0 302.0,516.5" stroke="#b4b4bc" stroke-width="0.8" fill="none"/><path d="M301.5,492.5 l-3,2.2 M310.5,492.5 l3,2.2 M301.0,476.0 l-2.2,-0.8 M311.0,476.0 l2.2,-0.8" stroke="#cfcfd2" stroke-width="1.1" stroke-linecap="round" fill="none"/><clipPath id="mp306_467"><path d="M306.00,467.00 L307.55,467.39 L308.65,468.76 L309.21,470.51 L310.31,470.90 L310.09,472.46 L311.42,474.32 L312.08,477.24 L312.30,481.63 L312.19,486.51 L311.86,490.41 L311.08,492.95 L309.54,494.32 L307.33,494.90 L306.00,495.00 L304.67,494.90 L302.46,494.32 L300.92,492.95 L300.14,490.41 L299.81,486.51 L299.70,481.63 L299.92,477.24 L300.58,474.32 L301.91,472.46 L301.69,470.90 L302.79,470.51 L303.35,468.76 L304.45,467.39Z"/></clipPath><path d="M306.00,467.00 L307.55,467.39 L308.65,468.76 L309.21,470.51 L310.31,470.90 L310.09,472.46 L311.42,474.32 L312.08,477.24 L312.30,481.63 L312.19,486.51 L311.86,490.41 L311.08,492.95 L309.54,494.32 L307.33,494.90 L306.00,495.00 L304.67,494.90 L302.46,494.32 L300.92,492.95 L300.14,490.41 L299.81,486.51 L299.70,481.63 L299.92,477.24 L300.58,474.32 L301.91,472.46 L301.69,470.90 L302.79,470.51 L303.35,468.76 L304.45,467.39Z" fill="#cfcfd2" filter="url(#mb2)"/><g clip-path="url(#mp306_467)"><g filter="url(#mb)"><ellipse cx="306.50" cy="482.00" rx="3.8" ry="11" fill="#f2f2f3"/><circle cx="302.50" cy="478.50" r="2.0" fill="#4048c0"/></g></g><path d="M329.0,494.0 Q329.0,505.0 329.0,516.5" stroke="#b4b4bc" stroke-width="0.8" fill="none"/><path d="M324.5,492.5 l-3,2.2 M333.5,492.5 l3,2.2 M324.0,476.0 l-2.2,-0.8 M334.0,476.0 l2.2,-0.8" stroke="#cfcfd2" stroke-width="1.1" stroke-linecap="round" fill="none"/><clipPath id="mp329_467"><path d="M329.00,467.00 L330.55,467.39 L331.65,468.76 L332.21,470.51 L333.31,470.90 L333.09,472.46 L334.42,474.32 L335.08,477.24 L335.30,481.63 L335.19,486.51 L334.86,490.41 L334.08,492.95 L332.54,494.32 L330.33,494.90 L329.00,495.00 L327.67,494.90 L325.46,494.32 L323.92,492.95 L323.14,490.41 L322.81,486.51 L322.70,481.63 L322.92,477.24 L323.58,474.32 L324.91,472.46 L324.69,470.90 L325.79,470.51 L326.35,468.76 L327.45,467.39Z"/></clipPath><path d="M329.00,467.00 L330.55,467.39 L331.65,468.76 L332.21,470.51 L333.31,470.90 L333.09,472.46 L334.42,474.32 L335.08,477.24 L335.30,481.63 L335.19,486.51 L334.86,490.41 L334.08,492.95 L332.54,494.32 L330.33,494.90 L329.00,495.00 L327.67,494.90 L325.46,494.32 L323.92,492.95 L323.14,490.41 L322.81,486.51 L322.70,481.63 L322.92,477.24 L323.58,474.32 L324.91,472.46 L324.69,470.90 L325.79,470.51 L326.35,468.76 L327.45,467.39Z" fill="#cfcfd2" filter="url(#mb2)"/><g clip-path="url(#mp329_467)"><g filter="url(#mb)"><ellipse cx="329.50" cy="482.00" rx="3.8" ry="11" fill="#f2f2f3"/><circle cx="332.50" cy="491.00" r="2.0" fill="#4048c0"/></g></g>
<defs><linearGradient id="cb" x1="0" y1="1" x2="0" y2="0"><stop offset="0" stop-color="#3c2a90"/><stop offset="0.1" stop-color="#2c38c0"/><stop offset="0.2" stop-color="#2a60d8"/><stop offset="0.32" stop-color="#38a8e0"/><stop offset="0.44" stop-color="#30b8a8"/><stop offset="0.58" stop-color="#48b048"/><stop offset="0.7" stop-color="#a8d038"/><stop offset="0.79" stop-color="#f0d020"/><stop offset="0.9" stop-color="#f08020"/><stop offset="1" stop-color="#e02828"/></linearGradient></defs>
<rect x="343.40" y="411.10" width="4.50" height="105.40" fill="url(#cb)" />
<text x="350.30" y="416.60" font-size="8.6" fill="#151515" stroke="#151515" stroke-width="0.12">1.0</text>
<text x="350.30" y="436.70" font-size="8.6" fill="#151515" stroke="#151515" stroke-width="0.12">0.8</text>
<text x="350.30" y="457.60" font-size="8.6" fill="#151515" stroke="#151515" stroke-width="0.12">0.6</text>
<text x="350.30" y="477.70" font-size="8.6" fill="#151515" stroke="#151515" stroke-width="0.12">0.4</text>
<text x="350.30" y="498.10" font-size="8.6" fill="#151515" stroke="#151515" stroke-width="0.12">0.2</text>
<text x="350.30" y="518.00" font-size="8.6" fill="#151515" stroke="#151515" stroke-width="0.12">0.03</text>
<text transform="translate(375.30,463.80) rotate(-90)" font-size="8.6" fill="#151515" stroke="#151515" stroke-width="0.12" text-anchor="middle">× 10<tspan font-size="5.5" dy="-3">7</tspan><tspan dy="3"> (p/sec/cm</tspan><tspan font-size="5.5" dy="-3">2</tspan><tspan dy="3">/sr)</tspan></text>
<text x="386.30" y="407.00" font-size="11.3" fill="#000" font-weight="bold">G</text>
<line x1="418.75" y1="495.75" x2="418.75" y2="421.00" stroke="#6d6e71" stroke-width="0.8" />
<line x1="416.75" y1="495.75" x2="418.75" y2="495.75" stroke="#6d6e71" stroke-width="0.8" />
<text x="415.55" y="498.85" font-size="8.6" fill="#151515" stroke="#151515" stroke-width="0.12" text-anchor="end">0</text>
<line x1="416.75" y1="477.12" x2="418.75" y2="477.12" stroke="#6d6e71" stroke-width="0.8" />
<text x="415.55" y="480.23" font-size="8.6" fill="#151515" stroke="#151515" stroke-width="0.12" text-anchor="end">25</text>
<line x1="416.75" y1="458.50" x2="418.75" y2="458.50" stroke="#6d6e71" stroke-width="0.8" />
<text x="415.55" y="461.60" font-size="8.6" fill="#151515" stroke="#151515" stroke-width="0.12" text-anchor="end">50</text>
<line x1="416.75" y1="439.88" x2="418.75" y2="439.88" stroke="#6d6e71" stroke-width="0.8" />
<text x="415.55" y="442.98" font-size="8.6" fill="#151515" stroke="#151515" stroke-width="0.12" text-anchor="end">75</text>
<line x1="416.75" y1="421.25" x2="418.75" y2="421.25" stroke="#6d6e71" stroke-width="0.8" />
<text x="415.55" y="424.35" font-size="8.6" fill="#151515" stroke="#151515" stroke-width="0.12" text-anchor="end">100</text>
<line x1="418.75" y1="495.75" x2="515.00" y2="495.75" stroke="#6d6e71" stroke-width="0.8" />
<line x1="419.20" y1="495.75" x2="419.20" y2="497.75" stroke="#6d6e71" stroke-width="0.8" />
<text x="419.20" y="507.60" font-size="8.6" fill="#151515" stroke="#151515" stroke-width="0.12" text-anchor="middle">0</text>
<line x1="438.26" y1="495.75" x2="438.26" y2="497.75" stroke="#6d6e71" stroke-width="0.8" />
<text x="438.26" y="507.60" font-size="8.6" fill="#151515" stroke="#151515" stroke-width="0.12" text-anchor="middle">5</text>
<line x1="457.32" y1="495.75" x2="457.32" y2="497.75" stroke="#6d6e71" stroke-width="0.8" />
<text x="457.32" y="507.60" font-size="8.6" fill="#151515" stroke="#151515" stroke-width="0.12" text-anchor="middle">10</text>
<line x1="476.38" y1="495.75" x2="476.38" y2="497.75" stroke="#6d6e71" stroke-width="0.8" />
<text x="476.38" y="507.60" font-size="8.6" fill="#151515" stroke="#151515" stroke-width="0.12" text-anchor="middle">15</text>
<line x1="495.44" y1="495.75" x2="495.44" y2="497.75" stroke="#6d6e71" stroke-width="0.8" />
<text x="495.44" y="507.60" font-size="8.6" fill="#151515" stroke="#151515" stroke-width="0.12" text-anchor="middle">20</text>
<line x1="514.50" y1="495.75" x2="514.50" y2="497.75" stroke="#6d6e71" stroke-width="0.8" />
<text x="514.50" y="507.60" font-size="8.6" fill="#151515" stroke="#151515" stroke-width="0.12" text-anchor="middle">25</text>
<text x="466.00" y="517.60" font-size="8.6" fill="#151515" stroke="#151515" stroke-width="0.12" text-anchor="middle">Days after transplantation</text>
<text transform="translate(395.80,456.80) rotate(-90)" font-size="8.65" fill="#151515" stroke="#151515" stroke-width="0.12" text-anchor="middle">Survival (%)</text>
<polyline points="419.20,421.25 480.19,421.25 480.19,453.21 484.00,453.21 484.00,463.79 487.82,463.79 487.82,495.75" fill="none" stroke="#4a78c0" stroke-width="1.0" stroke-linejoin="round" />
<polyline points="480.19,421.25 491.63,421.25 491.63,463.79 503.06,463.79 503.06,474.44 506.88,474.44 506.88,485.10 510.69,485.10 510.69,495.75" fill="none" stroke="#e8605a" stroke-width="1.0" stroke-linejoin="round" />
<line x1="427.00" y1="462.00" x2="436.25" y2="462.00" stroke="#4a78c0" stroke-width="1.0" />
<line x1="431.60" y1="460.50" x2="431.60" y2="463.50" stroke="#4a78c0" stroke-width="0.8" />
<text x="440.00" y="465.10" font-size="8.6" fill="#151515" stroke="#151515" stroke-width="0.12">ev</text>
<line x1="427.00" y1="475.00" x2="436.25" y2="475.00" stroke="#e8605a" stroke-width="1.0" />
<line x1="431.60" y1="473.50" x2="431.60" y2="476.50" stroke="#e8605a" stroke-width="0.8" />
<text x="440.00" y="478.10" font-size="8.6" fill="#151515" stroke="#151515" stroke-width="0.12">sgKAT6A</text>
<text x="503.30" y="454.40" font-size="7.5" fill="#151515" stroke="#151515" stroke-width="0.12" text-anchor="middle" letter-spacing="0.6">***</text>
<text x="0.40" y="544.40" font-size="11.3" fill="#000" font-weight="bold">H</text>
<text x="98.50" y="556.80" font-size="8.85" fill="#151515" stroke="#151515" stroke-width="0.12" text-anchor="middle">Mouse MLL–AF9</text>
<line x1="49.50" y1="644.10" x2="49.50" y2="563.50" stroke="#6d6e71" stroke-width="0.8" />
<line x1="47.50" y1="644.10" x2="49.50" y2="644.10" stroke="#6d6e71" stroke-width="0.8" />
<text x="46.30" y="647.20" font-size="8.6" fill="#151515" stroke="#151515" stroke-width="0.12" text-anchor="end">0</text>
<line x1="47.50" y1="624.15" x2="49.50" y2="624.15" stroke="#6d6e71" stroke-width="0.8" />
<text x="46.30" y="627.25" font-size="8.6" fill="#151515" stroke="#151515" stroke-width="0.12" text-anchor="end">40</text>
<line x1="47.50" y1="604.20" x2="49.50" y2="604.20" stroke="#6d6e71" stroke-width="0.8" />
<text x="46.30" y="607.30" font-size="8.6" fill="#151515" stroke="#151515" stroke-width="0.12" text-anchor="end">80</text>
<line x1="47.50" y1="584.25" x2="49.50" y2="584.25" stroke="#6d6e71" stroke-width="0.8" />
<text x="46.30" y="587.35" font-size="8.6" fill="#151515" stroke="#151515" stroke-width="0.12" text-anchor="end">120</text>
<line x1="47.50" y1="564.30" x2="49.50" y2="564.30" stroke="#6d6e71" stroke-width="0.8" />
<text x="46.30" y="567.40" font-size="8.6" fill="#151515" stroke="#151515" stroke-width="0.12" text-anchor="end">160</text>
<line x1="49.50" y1="644.10" x2="144.50" y2="644.10" stroke="#6d6e71" stroke-width="0.8" />
<line x1="57.70" y1="644.10" x2="57.70" y2="646.10" stroke="#6d6e71" stroke-width="0.8" />
<text transform="translate(63.00,652.20) rotate(-45)" font-size="8.6" fill="#151515" stroke="#151515" stroke-width="0.12" text-anchor="end">Day 6</text>
<line x1="73.50" y1="644.10" x2="73.50" y2="646.10" stroke="#6d6e71" stroke-width="0.8" />
<text transform="translate(78.80,652.20) rotate(-45)" font-size="8.6" fill="#151515" stroke="#151515" stroke-width="0.12" text-anchor="end">Day 9</text>
<line x1="89.60" y1="644.10" x2="89.60" y2="646.10" stroke="#6d6e71" stroke-width="0.8" />
<text transform="translate(94.90,652.20) rotate(-45)" font-size="8.6" fill="#151515" stroke="#151515" stroke-width="0.12" text-anchor="end">Day 12</text>
<line x1="105.80" y1="644.10" x2="105.80" y2="646.10" stroke="#6d6e71" stroke-width="0.8" />
<text transform="translate(111.10,652.20) rotate(-45)" font-size="8.6" fill="#151515" stroke="#151515" stroke-width="0.12" text-anchor="end">Day 15</text>
<line x1="122.30" y1="644.10" x2="122.30" y2="646.10" stroke="#6d6e71" stroke-width="0.8" />
<text transform="translate(127.60,652.20) rotate(-45)" font-size="8.6" fill="#151515" stroke="#151515" stroke-width="0.12" text-anchor="end">Day 18</text>
<line x1="138.50" y1="644.10" x2="138.50" y2="646.10" stroke="#6d6e71" stroke-width="0.8" />
<text transform="translate(143.80,652.20) rotate(-45)" font-size="8.6" fill="#151515" stroke="#151515" stroke-width="0.12" text-anchor="end">Day 21</text>
<text transform="translate(27.50,601.00) rotate(-90)" font-size="9.1" fill="#151515" stroke="#151515" stroke-width="0.12" text-anchor="middle">Relative mCherry<tspan font-size="5.5" dy="-3">+</tspan><tspan dy="3">%</tspan></text>
<polyline points="57.70,594.23 73.50,595.22 89.60,601.71 105.80,604.20 122.30,608.19 138.50,610.68" fill="none" stroke="#dc3f48" stroke-width="1.0" stroke-linejoin="round" />
<circle cx="57.70" cy="594.23" r="1.5" fill="#dc3f48" />
<circle cx="73.50" cy="595.22" r="1.5" fill="#dc3f48" />
<circle cx="89.60" cy="601.71" r="1.5" fill="#dc3f48" />
<circle cx="105.80" cy="604.20" r="1.5" fill="#dc3f48" />
<circle cx="122.30" cy="608.19" r="1.5" fill="#dc3f48" />
<circle cx="138.50" cy="610.68" r="1.5" fill="#dc3f48" />
<polyline points="57.70,594.23 73.50,596.72 89.60,603.20 105.80,608.19 122.30,609.19 138.50,611.18" fill="none" stroke="#dc3f48" stroke-width="1.0" stroke-linejoin="round" />
<circle cx="57.70" cy="594.23" r="1.5" fill="#dc3f48" />
<circle cx="73.50" cy="596.72" r="1.5" fill="#dc3f48" />
<circle cx="89.60" cy="603.20" r="1.5" fill="#dc3f48" />
<circle cx="105.80" cy="608.19" r="1.5" fill="#dc3f48" />
<circle cx="122.30" cy="609.19" r="1.5" fill="#dc3f48" />
<circle cx="138.50" cy="611.18" r="1.5" fill="#dc3f48" />
<polyline points="57.70,594.23 73.50,597.72 89.60,605.20 105.80,610.18 122.30,615.17 138.50,617.67" fill="none" stroke="#dc3f48" stroke-width="1.0" stroke-linejoin="round" />
<circle cx="57.70" cy="594.23" r="1.5" fill="#dc3f48" />
<circle cx="73.50" cy="597.72" r="1.5" fill="#dc3f48" />
<circle cx="89.60" cy="605.20" r="1.5" fill="#dc3f48" />
<circle cx="105.80" cy="610.18" r="1.5" fill="#dc3f48" />
<circle cx="122.30" cy="615.17" r="1.5" fill="#dc3f48" />
<circle cx="138.50" cy="617.67" r="1.5" fill="#dc3f48" />
<polyline points="57.70,594.23 73.50,598.71 89.60,606.69 105.80,612.68 122.30,618.16 138.50,623.15" fill="none" stroke="#dc3f48" stroke-width="1.0" stroke-linejoin="round" />
<circle cx="57.70" cy="594.23" r="1.5" fill="#dc3f48" />
<circle cx="73.50" cy="598.71" r="1.5" fill="#dc3f48" />
<circle cx="89.60" cy="606.69" r="1.5" fill="#dc3f48" />
<circle cx="105.80" cy="612.68" r="1.5" fill="#dc3f48" />
<circle cx="122.30" cy="618.16" r="1.5" fill="#dc3f48" />
<circle cx="138.50" cy="623.15" r="1.5" fill="#dc3f48" />
<polyline points="57.70,594.23 73.50,599.71 89.60,607.69 105.80,615.17 122.30,620.66 138.50,625.15" fill="none" stroke="#dc3f48" stroke-width="1.0" stroke-linejoin="round" />
<circle cx="57.70" cy="594.23" r="1.5" fill="#dc3f48" />
<circle cx="73.50" cy="599.71" r="1.5" fill="#dc3f48" />
<circle cx="89.60" cy="607.69" r="1.5" fill="#dc3f48" />
<circle cx="105.80" cy="615.17" r="1.5" fill="#dc3f48" />
<circle cx="122.30" cy="620.66" r="1.5" fill="#dc3f48" />
<circle cx="138.50" cy="625.15" r="1.5" fill="#dc3f48" />
<polyline points="57.70,594.23 73.50,600.71 89.60,609.19 105.80,617.17 122.30,622.65 138.50,626.64" fill="none" stroke="#dc3f48" stroke-width="1.0" stroke-linejoin="round" />
<circle cx="57.70" cy="594.23" r="1.5" fill="#dc3f48" />
<circle cx="73.50" cy="600.71" r="1.5" fill="#dc3f48" />
<circle cx="89.60" cy="609.19" r="1.5" fill="#dc3f48" />
<circle cx="105.80" cy="617.17" r="1.5" fill="#dc3f48" />
<circle cx="122.30" cy="622.65" r="1.5" fill="#dc3f48" />
<circle cx="138.50" cy="626.64" r="1.5" fill="#dc3f48" />
<polyline points="57.70,594.23 73.50,589.74 89.60,592.73 105.80,592.23 122.30,590.24 138.50,590.73" fill="none" stroke="#345d9d" stroke-width="1.0" stroke-linejoin="round" />
<line x1="138.50" y1="587.24" x2="138.50" y2="594.23" stroke="#345d9d" stroke-width="0.8" />
<line x1="137.00" y1="587.24" x2="140.00" y2="587.24" stroke="#345d9d" stroke-width="0.8" />
<line x1="137.00" y1="594.23" x2="140.00" y2="594.23" stroke="#345d9d" stroke-width="0.8" />
<circle cx="57.70" cy="594.23" r="1.5" fill="#345d9d" />
<circle cx="73.50" cy="589.74" r="1.5" fill="#345d9d" />
<circle cx="89.60" cy="592.73" r="1.5" fill="#345d9d" />
<circle cx="105.80" cy="592.23" r="1.5" fill="#345d9d" />
<circle cx="122.30" cy="590.24" r="1.5" fill="#345d9d" />
<circle cx="138.50" cy="590.73" r="1.5" fill="#345d9d" />
<line x1="149.50" y1="569.60" x2="158.50" y2="569.60" stroke="#345d9d" stroke-width="1.0" />
<circle cx="154.00" cy="569.60" r="1.6" fill="#345d9d" />
<text x="161.50" y="572.70" font-size="8.6" fill="#151515" stroke="#151515" stroke-width="0.12">ev</text>
<line x1="149.50" y1="580.85" x2="158.50" y2="580.85" stroke="#dc3f48" stroke-width="1.0" />
<circle cx="154.00" cy="580.85" r="1.6" fill="#dc3f48" />
<text x="161.50" y="583.95" font-size="8.6" fill="#151515" stroke="#151515" stroke-width="0.12">sgKat6a-1</text>
<line x1="149.50" y1="592.10" x2="158.50" y2="592.10" stroke="#dc3f48" stroke-width="1.0" />
<circle cx="154.00" cy="592.10" r="1.6" fill="#dc3f48" />
<text x="161.50" y="595.20" font-size="8.6" fill="#151515" stroke="#151515" stroke-width="0.12">sgKat6a-2</text>
<line x1="149.50" y1="603.35" x2="158.50" y2="603.35" stroke="#dc3f48" stroke-width="1.0" />
<circle cx="154.00" cy="603.35" r="1.6" fill="#dc3f48" />
<text x="161.50" y="606.45" font-size="8.6" fill="#151515" stroke="#151515" stroke-width="0.12">sgKat6a-3</text>
<line x1="149.50" y1="614.60" x2="158.50" y2="614.60" stroke="#dc3f48" stroke-width="1.0" />
<circle cx="154.00" cy="614.60" r="1.6" fill="#dc3f48" />
<text x="161.50" y="617.70" font-size="8.6" fill="#151515" stroke="#151515" stroke-width="0.12">sgKat6a-4</text>
<line x1="149.50" y1="625.85" x2="158.50" y2="625.85" stroke="#dc3f48" stroke-width="1.0" />
<circle cx="154.00" cy="625.85" r="1.6" fill="#dc3f48" />
<text x="161.50" y="628.95" font-size="8.6" fill="#151515" stroke="#151515" stroke-width="0.12">sgKat6a-5</text>
<line x1="149.50" y1="637.10" x2="158.50" y2="637.10" stroke="#dc3f48" stroke-width="1.0" />
<circle cx="154.00" cy="637.10" r="1.6" fill="#dc3f48" />
<text x="161.50" y="640.20" font-size="8.6" fill="#151515" stroke="#151515" stroke-width="0.12">sgKat6a-6</text>
<text x="213.35" y="545.00" font-size="11.3" fill="#000" font-weight="bold">I</text>
<text x="278.20" y="553.50" font-size="8.6" fill="#151515" stroke="#151515" stroke-width="0.12" text-anchor="middle">Mouse MLL–AF9</text>
<line x1="252.90" y1="641.70" x2="252.90" y2="560.00" stroke="#6d6e71" stroke-width="0.8" />
<line x1="250.90" y1="641.70" x2="252.90" y2="641.70" stroke="#6d6e71" stroke-width="0.8" />
<text x="249.70" y="644.80" font-size="8.6" fill="#151515" stroke="#151515" stroke-width="0.12" text-anchor="end">0</text>
<line x1="250.90" y1="621.48" x2="252.90" y2="621.48" stroke="#6d6e71" stroke-width="0.8" />
<text x="249.70" y="624.58" font-size="8.6" fill="#151515" stroke="#151515" stroke-width="0.12" text-anchor="end">10</text>
<line x1="250.90" y1="601.25" x2="252.90" y2="601.25" stroke="#6d6e71" stroke-width="0.8" />
<text x="249.70" y="604.35" font-size="8.6" fill="#151515" stroke="#151515" stroke-width="0.12" text-anchor="end">20</text>
<line x1="250.90" y1="581.02" x2="252.90" y2="581.02" stroke="#6d6e71" stroke-width="0.8" />
<text x="249.70" y="584.12" font-size="8.6" fill="#151515" stroke="#151515" stroke-width="0.12" text-anchor="end">30</text>
<line x1="250.90" y1="560.80" x2="252.90" y2="560.80" stroke="#6d6e71" stroke-width="0.8" />
<text x="249.70" y="563.90" font-size="8.6" fill="#151515" stroke="#151515" stroke-width="0.12" text-anchor="end">40</text>
<line x1="252.90" y1="641.70" x2="301.50" y2="641.70" stroke="#6d6e71" stroke-width="0.8" />
<text transform="translate(237.00,599.80) rotate(-90)" font-size="8.65" fill="#151515" stroke="#151515" stroke-width="0.12" text-anchor="middle">Number of colonies</text>
<rect x="260.78" y="583.05" width="12.85" height="58.65" fill="#fff" stroke="#4f76ae" stroke-width="0.95" />
<line x1="267.20" y1="579.41" x2="267.20" y2="586.69" stroke="#345d9d" stroke-width="0.8" />
<line x1="265.20" y1="579.41" x2="269.20" y2="579.41" stroke="#345d9d" stroke-width="0.8" />
<line x1="265.20" y1="586.69" x2="269.20" y2="586.69" stroke="#345d9d" stroke-width="0.8" />
<circle cx="264.60" cy="576.78" r="1.8" fill="#345d9d" />
<circle cx="270.40" cy="576.78" r="1.8" fill="#345d9d" />
<circle cx="267.20" cy="580.62" r="1.8" fill="#345d9d" />
<circle cx="261.90" cy="588.91" r="1.8" fill="#345d9d" />
<circle cx="267.80" cy="586.89" r="1.8" fill="#345d9d" />
<circle cx="272.50" cy="586.89" r="1.8" fill="#345d9d" />
<rect x="281.68" y="619.25" width="13.55" height="22.45" fill="#fff" stroke="#e86a6e" stroke-width="0.95" />
<line x1="288.45" y1="610.55" x2="288.45" y2="627.34" stroke="#dc3f48" stroke-width="0.8" />
<line x1="286.45" y1="610.55" x2="290.45" y2="610.55" stroke="#dc3f48" stroke-width="0.8" />
<line x1="286.45" y1="627.34" x2="290.45" y2="627.34" stroke="#dc3f48" stroke-width="0.8" />
<path d="M287.15,605.72L290.55,605.72L288.85,608.44Z" fill="#dc3f48"/>
<path d="M287.15,611.79L290.55,611.79L288.85,614.51Z" fill="#dc3f48"/>
<path d="M290.65,615.43L294.05,615.43L292.35,618.15Z" fill="#dc3f48"/>
<path d="M283.95,618.26L287.35,618.26L285.65,620.98Z" fill="#dc3f48"/>
<path d="M287.15,624.33L290.55,624.33L288.85,627.05Z" fill="#dc3f48"/>
<path d="M287.15,628.58L290.55,628.58L288.85,631.30Z" fill="#dc3f48"/>
<text x="278.60" y="567.60" font-size="7.5" fill="#151515" stroke="#151515" stroke-width="0.12" text-anchor="middle" letter-spacing="0.6">***</text>
<line x1="268.20" y1="569.10" x2="287.80" y2="569.10" stroke="#6d6e71" stroke-width="0.8" />
<line x1="266.90" y1="641.70" x2="266.90" y2="643.70" stroke="#6d6e71" stroke-width="0.8" />
<line x1="288.20" y1="641.70" x2="288.20" y2="643.70" stroke="#6d6e71" stroke-width="0.8" />
<text transform="translate(269.50,648.00) rotate(-45)" font-size="8.6" fill="#151515" stroke="#151515" stroke-width="0.12" text-anchor="end">ev</text>
<text transform="translate(291.00,648.00) rotate(-45)" font-size="8.6" fill="#151515" stroke="#151515" stroke-width="0.12" text-anchor="end">sgKat6a</text>
<text x="327.60" y="544.40" font-size="11.3" fill="#000" font-weight="bold">J</text>
<text x="403.40" y="553.30" font-size="8.8" fill="#151515" stroke="#151515" stroke-width="0.12" text-anchor="middle">Mouse MLL–AF9</text>
<line x1="377.80" y1="641.20" x2="377.80" y2="559.50" stroke="#6d6e71" stroke-width="0.8" />
<line x1="375.80" y1="641.20" x2="377.80" y2="641.20" stroke="#6d6e71" stroke-width="0.8" />
<text x="374.60" y="644.30" font-size="8.6" fill="#151515" stroke="#151515" stroke-width="0.12" text-anchor="end">0</text>
<line x1="375.80" y1="620.95" x2="377.80" y2="620.95" stroke="#6d6e71" stroke-width="0.8" />
<text x="374.60" y="624.05" font-size="8.6" fill="#151515" stroke="#151515" stroke-width="0.12" text-anchor="end">10</text>
<line x1="375.80" y1="600.70" x2="377.80" y2="600.70" stroke="#6d6e71" stroke-width="0.8" />
<text x="374.60" y="603.80" font-size="8.6" fill="#151515" stroke="#151515" stroke-width="0.12" text-anchor="end">20</text>
<line x1="375.80" y1="580.45" x2="377.80" y2="580.45" stroke="#6d6e71" stroke-width="0.8" />
<text x="374.60" y="583.55" font-size="8.6" fill="#151515" stroke="#151515" stroke-width="0.12" text-anchor="end">30</text>
<line x1="375.80" y1="560.20" x2="377.80" y2="560.20" stroke="#6d6e71" stroke-width="0.8" />
<text x="374.60" y="563.30" font-size="8.6" fill="#151515" stroke="#151515" stroke-width="0.12" text-anchor="end">40</text>
<line x1="377.80" y1="641.20" x2="426.50" y2="641.20" stroke="#6d6e71" stroke-width="0.8" />
<text transform="translate(349.30,599.10) rotate(-90)" font-size="8.6" fill="#151515" stroke="#151515" stroke-width="0.12" text-anchor="middle">Leukemic burden</text>
<text transform="translate(359.90,599.40) rotate(-90)" font-size="8.6" fill="#151515" stroke="#151515" stroke-width="0.12" text-anchor="middle">(% GFP)</text>
<circle cx="386.80" cy="584.50" r="2.1" fill="#345d9d" />
<circle cx="397.30" cy="586.53" r="2.1" fill="#345d9d" />
<circle cx="391.90" cy="593.61" r="2.1" fill="#345d9d" />
<circle cx="391.90" cy="607.79" r="2.1" fill="#345d9d" />
<circle cx="391.90" cy="625.00" r="2.1" fill="#345d9d" />
<line x1="386.00" y1="593.61" x2="399.40" y2="593.61" stroke="#222" stroke-width="1.0" />
<path d="M410.70,614.35L415.10,614.35L412.90,617.87Z" fill="#dc3f48"/>
<path d="M405.80,629.54L410.20,629.54L408.00,633.06Z" fill="#dc3f48"/>
<path d="M415.30,629.54L419.70,629.54L417.50,633.06Z" fill="#dc3f48"/>
<path d="M405.80,633.59L410.20,633.59L408.00,637.11Z" fill="#dc3f48"/>
<path d="M415.30,633.59L419.70,633.59L417.50,637.11Z" fill="#dc3f48"/>
<line x1="408.30" y1="631.68" x2="420.20" y2="631.68" stroke="#222" stroke-width="1.0" />
<text x="402.10" y="569.90" font-size="7.5" fill="#151515" stroke="#151515" stroke-width="0.12" text-anchor="middle" letter-spacing="0.6">**</text>
<line x1="392.30" y1="570.20" x2="411.70" y2="570.20" stroke="#6d6e71" stroke-width="0.8" />
<line x1="391.90" y1="641.20" x2="391.90" y2="643.20" stroke="#6d6e71" stroke-width="0.8" />
<line x1="413.00" y1="641.20" x2="413.00" y2="643.20" stroke="#6d6e71" stroke-width="0.8" />
<text transform="translate(395.00,647.70) rotate(-45)" font-size="8.6" fill="#151515" stroke="#151515" stroke-width="0.12" text-anchor="end">ev</text>
<text transform="translate(416.00,647.70) rotate(-45)" font-size="8.6" fill="#151515" stroke="#151515" stroke-width="0.12" text-anchor="end">sgKat6a</text>
<text x="0.40" y="695.30" font-size="11.3" fill="#000" font-weight="bold">K</text>
<rect x="91.50" y="687.70" width="74.80" height="7.10" fill="#f1d6ef" />
<text x="128.90" y="693.90" font-size="7.1" fill="#151515" stroke="#151515" stroke-width="0.12" text-anchor="middle">sgKAT6A-1</text>
<path d="M53,697 L147.8,697 L153,702 L147.8,707 L53,707 L57,702 Z" fill="#f4aa78"/>
<text x="108.75" y="705.80" font-size="7.8" fill="#151515" stroke="#151515" stroke-width="0.12" text-anchor="middle"><tspan font-style="italic">KAT6A</tspan> exon 4</text>
<line x1="153.00" y1="701.60" x2="201.40" y2="701.60" stroke="#a8a8a8" stroke-width="2.0" />
<text x="177.70" y="712.10" font-size="6.5" fill="#151515" stroke="#151515" stroke-width="0.12" text-anchor="middle">Intron</text>
<line x1="50.40" y1="786.30" x2="50.40" y2="717.80" stroke="#6d6e71" stroke-width="0.8" />
<line x1="48.40" y1="786.30" x2="50.40" y2="786.30" stroke="#6d6e71" stroke-width="0.8" />
<text x="48.50" y="789.40" font-size="9.0" fill="#151515" stroke="#151515" stroke-width="0.12" text-anchor="end">0</text>
<line x1="48.40" y1="763.63" x2="50.40" y2="763.63" stroke="#6d6e71" stroke-width="0.8" />
<text x="48.50" y="766.73" font-size="9.0" fill="#151515" stroke="#151515" stroke-width="0.12" text-anchor="end">50</text>
<line x1="48.40" y1="740.97" x2="50.40" y2="740.97" stroke="#6d6e71" stroke-width="0.8" />
<text x="48.50" y="744.07" font-size="9.0" fill="#151515" stroke="#151515" stroke-width="0.12" text-anchor="end">100</text>
<line x1="48.40" y1="718.30" x2="50.40" y2="718.30" stroke="#6d6e71" stroke-width="0.8" />
<text x="48.50" y="721.40" font-size="9.0" fill="#151515" stroke="#151515" stroke-width="0.12" text-anchor="end">150</text>
<line x1="50.40" y1="786.30" x2="118.00" y2="786.30" stroke="#6d6e71" stroke-width="0.8" />
<line x1="51.30" y1="786.30" x2="51.30" y2="788.30" stroke="#6d6e71" stroke-width="0.8" />
<text x="51.30" y="795.50" font-size="9.0" fill="#151515" stroke="#151515" stroke-width="0.12" text-anchor="middle">5</text>
<line x1="73.27" y1="786.30" x2="73.27" y2="788.30" stroke="#6d6e71" stroke-width="0.8" />
<text x="73.27" y="795.50" font-size="9.0" fill="#151515" stroke="#151515" stroke-width="0.12" text-anchor="middle">10</text>
<line x1="95.23" y1="786.30" x2="95.23" y2="788.30" stroke="#6d6e71" stroke-width="0.8" />
<text x="95.23" y="795.50" font-size="9.0" fill="#151515" stroke="#151515" stroke-width="0.12" text-anchor="middle">15</text>
<line x1="117.20" y1="786.30" x2="117.20" y2="788.30" stroke="#6d6e71" stroke-width="0.8" />
<text x="117.20" y="795.50" font-size="9.0" fill="#151515" stroke="#151515" stroke-width="0.12" text-anchor="middle">20</text>
<text x="84.50" y="806.20" font-size="9.3" fill="#151515" stroke="#151515" stroke-width="0.12" text-anchor="middle">Days</text>
<text transform="translate(30.20,748.40) rotate(-90)" font-size="9.3" fill="#151515" stroke="#151515" stroke-width="0.12" text-anchor="middle">Relative GFP<tspan font-size="5.5" dy="-3">+</tspan><tspan dy="3">%</tspan></text>
<polyline points="55.69,740.97 73.27,750.03 82.05,755.02 95.23,758.87 108.41,763.63" fill="none" stroke="#f5a94a" stroke-width="1.0" stroke-linejoin="round" />
<line x1="73.27" y1="747.31" x2="73.27" y2="752.75" stroke="#f5a94a" stroke-width="0.7" />
<line x1="71.77" y1="747.31" x2="74.77" y2="747.31" stroke="#f5a94a" stroke-width="0.7" />
<line x1="71.77" y1="752.75" x2="74.77" y2="752.75" stroke="#f5a94a" stroke-width="0.7" />
<line x1="95.23" y1="756.61" x2="95.23" y2="761.14" stroke="#f5a94a" stroke-width="0.7" />
<line x1="93.73" y1="756.61" x2="96.73" y2="756.61" stroke="#f5a94a" stroke-width="0.7" />
<line x1="93.73" y1="761.14" x2="96.73" y2="761.14" stroke="#f5a94a" stroke-width="0.7" />
<line x1="108.41" y1="760.91" x2="108.41" y2="766.35" stroke="#f5a94a" stroke-width="0.7" />
<line x1="106.91" y1="760.91" x2="109.91" y2="760.91" stroke="#f5a94a" stroke-width="0.7" />
<line x1="106.91" y1="766.35" x2="109.91" y2="766.35" stroke="#f5a94a" stroke-width="0.7" />
<circle cx="55.69" cy="740.97" r="1.5" fill="#f5a94a" />
<circle cx="73.27" cy="750.03" r="1.5" fill="#f5a94a" />
<circle cx="82.05" cy="755.02" r="1.5" fill="#f5a94a" />
<circle cx="95.23" cy="758.87" r="1.5" fill="#f5a94a" />
<circle cx="108.41" cy="763.63" r="1.5" fill="#f5a94a" />
<polyline points="55.69,740.97 73.27,750.49 82.05,754.79 95.23,761.37 108.41,766.81" fill="none" stroke="#e8452f" stroke-width="1.0" stroke-linejoin="round" />
<line x1="73.27" y1="748.22" x2="73.27" y2="752.75" stroke="#e8452f" stroke-width="0.7" />
<line x1="71.77" y1="748.22" x2="74.77" y2="748.22" stroke="#e8452f" stroke-width="0.7" />
<line x1="71.77" y1="752.75" x2="74.77" y2="752.75" stroke="#e8452f" stroke-width="0.7" />
<line x1="95.23" y1="759.10" x2="95.23" y2="763.63" stroke="#e8452f" stroke-width="0.7" />
<line x1="93.73" y1="759.10" x2="96.73" y2="759.10" stroke="#e8452f" stroke-width="0.7" />
<line x1="93.73" y1="763.63" x2="96.73" y2="763.63" stroke="#e8452f" stroke-width="0.7" />
<line x1="108.41" y1="763.63" x2="108.41" y2="769.98" stroke="#e8452f" stroke-width="0.7" />
<line x1="106.91" y1="763.63" x2="109.91" y2="763.63" stroke="#e8452f" stroke-width="0.7" />
<line x1="106.91" y1="769.98" x2="109.91" y2="769.98" stroke="#e8452f" stroke-width="0.7" />
<circle cx="55.69" cy="740.97" r="1.5" fill="#e8452f" />
<circle cx="73.27" cy="750.49" r="1.5" fill="#e8452f" />
<circle cx="82.05" cy="754.79" r="1.5" fill="#e8452f" />
<circle cx="95.23" cy="761.37" r="1.5" fill="#e8452f" />
<circle cx="108.41" cy="766.81" r="1.5" fill="#e8452f" />
<polyline points="55.69,740.97 73.27,740.97 82.05,740.06 95.23,736.43 108.41,732.35" fill="none" stroke="#266b46" stroke-width="1.0" stroke-linejoin="round" />
<line x1="73.27" y1="739.15" x2="73.27" y2="742.78" stroke="#266b46" stroke-width="0.7" />
<line x1="71.77" y1="739.15" x2="74.77" y2="739.15" stroke="#266b46" stroke-width="0.7" />
<line x1="71.77" y1="742.78" x2="74.77" y2="742.78" stroke="#266b46" stroke-width="0.7" />
<line x1="82.05" y1="738.25" x2="82.05" y2="741.87" stroke="#266b46" stroke-width="0.7" />
<line x1="80.55" y1="738.25" x2="83.55" y2="738.25" stroke="#266b46" stroke-width="0.7" />
<line x1="80.55" y1="741.87" x2="83.55" y2="741.87" stroke="#266b46" stroke-width="0.7" />
<line x1="95.23" y1="735.07" x2="95.23" y2="737.79" stroke="#266b46" stroke-width="0.7" />
<line x1="93.73" y1="735.07" x2="96.73" y2="735.07" stroke="#266b46" stroke-width="0.7" />
<line x1="93.73" y1="737.79" x2="96.73" y2="737.79" stroke="#266b46" stroke-width="0.7" />
<line x1="108.41" y1="723.74" x2="108.41" y2="740.97" stroke="#266b46" stroke-width="0.7" />
<line x1="106.91" y1="723.74" x2="109.91" y2="723.74" stroke="#266b46" stroke-width="0.7" />
<line x1="106.91" y1="740.97" x2="109.91" y2="740.97" stroke="#266b46" stroke-width="0.7" />
<circle cx="55.69" cy="740.97" r="1.5" fill="#266b46" />
<circle cx="73.27" cy="740.97" r="1.5" fill="#266b46" />
<circle cx="82.05" cy="740.06" r="1.5" fill="#266b46" />
<circle cx="95.23" cy="736.43" r="1.5" fill="#266b46" />
<circle cx="108.41" cy="732.35" r="1.5" fill="#266b46" />
<polyline points="55.69,740.97 73.27,735.98 82.05,731.45 95.23,730.09 108.41,729.18" fill="none" stroke="#3d70aa" stroke-width="1.0" stroke-linejoin="round" />
<line x1="95.23" y1="728.27" x2="95.23" y2="731.90" stroke="#3d70aa" stroke-width="0.7" />
<line x1="93.73" y1="728.27" x2="96.73" y2="728.27" stroke="#3d70aa" stroke-width="0.7" />
<line x1="93.73" y1="731.90" x2="96.73" y2="731.90" stroke="#3d70aa" stroke-width="0.7" />
<line x1="108.41" y1="725.55" x2="108.41" y2="732.81" stroke="#3d70aa" stroke-width="0.7" />
<line x1="106.91" y1="725.55" x2="109.91" y2="725.55" stroke="#3d70aa" stroke-width="0.7" />
<line x1="106.91" y1="732.81" x2="109.91" y2="732.81" stroke="#3d70aa" stroke-width="0.7" />
<circle cx="55.69" cy="740.97" r="1.5" fill="#3d70aa" />
<circle cx="73.27" cy="735.98" r="1.5" fill="#3d70aa" />
<circle cx="82.05" cy="731.45" r="1.5" fill="#3d70aa" />
<circle cx="95.23" cy="730.09" r="1.5" fill="#3d70aa" />
<circle cx="108.41" cy="729.18" r="1.5" fill="#3d70aa" />
<line x1="120.00" y1="738.00" x2="128.00" y2="738.00" stroke="#3d70aa" stroke-width="1.0" />
<circle cx="124.20" cy="738.00" r="1.5" fill="#3d70aa" />
<text x="132.30" y="741.10" font-size="8.7" fill="#151515" stroke="#151515" stroke-width="0.12">ev</text>
<line x1="120.00" y1="748.50" x2="128.00" y2="748.50" stroke="#e8452f" stroke-width="1.0" />
<circle cx="124.20" cy="748.50" r="1.5" fill="#e8452f" />
<text x="132.30" y="751.60" font-size="8.7" fill="#151515" stroke="#151515" stroke-width="0.12">sgKAT6A-1</text>
<line x1="120.00" y1="759.00" x2="128.00" y2="759.00" stroke="#266b46" stroke-width="1.0" />
<circle cx="124.20" cy="759.00" r="1.5" fill="#266b46" />
<text x="132.30" y="762.10" font-size="8.7" fill="#151515" stroke="#151515" stroke-width="0.12">sgKAT6A-1 + <tspan font-style="italic">KAT6A</tspan>-WT cDNA</text>
<line x1="120.00" y1="769.50" x2="128.00" y2="769.50" stroke="#f5a94a" stroke-width="1.0" />
<circle cx="124.20" cy="769.50" r="1.5" fill="#f5a94a" />
<text x="132.30" y="772.60" font-size="8.7" fill="#151515" stroke="#151515" stroke-width="0.12">sgKAT6A-1 + <tspan font-style="italic">KAT6A</tspan><tspan font-size="5.3" dy="-3.2">Q654E/G657E</tspan></text>
<rect x="329.70" y="685.20" width="76.10" height="7.50" fill="#fcefc6" />
<text x="367.50" y="691.80" font-size="6.8" fill="#151515" stroke="#151515" stroke-width="0.12" text-anchor="middle">sgKAT6A-2</text>
<path d="M295.7,696 L430.3,696 L430.3,693.7 L438.5,700.9 L430.3,708 L430.3,705.8 L295.7,705.8 L299.5,700.9 Z" fill="#a9c8e8"/>
<text x="367.10" y="704.00" font-size="7.1" fill="#151515" stroke="#151515" stroke-width="0.12" text-anchor="middle">KAT6A exon 5</text>
<line x1="290.40" y1="783.50" x2="290.40" y2="716.00" stroke="#6d6e71" stroke-width="0.8" />
<line x1="288.40" y1="783.50" x2="290.40" y2="783.50" stroke="#6d6e71" stroke-width="0.8" />
<text x="287.20" y="786.60" font-size="8.8" fill="#151515" stroke="#151515" stroke-width="0.12" text-anchor="end">0</text>
<line x1="288.40" y1="761.17" x2="290.40" y2="761.17" stroke="#6d6e71" stroke-width="0.8" />
<text x="287.20" y="764.27" font-size="8.8" fill="#151515" stroke="#151515" stroke-width="0.12" text-anchor="end">50</text>
<line x1="288.40" y1="738.83" x2="290.40" y2="738.83" stroke="#6d6e71" stroke-width="0.8" />
<text x="287.20" y="741.93" font-size="8.8" fill="#151515" stroke="#151515" stroke-width="0.12" text-anchor="end">100</text>
<line x1="288.40" y1="716.50" x2="290.40" y2="716.50" stroke="#6d6e71" stroke-width="0.8" />
<text x="287.20" y="719.60" font-size="8.8" fill="#151515" stroke="#151515" stroke-width="0.12" text-anchor="end">150</text>
<line x1="290.40" y1="783.50" x2="358.00" y2="783.50" stroke="#6d6e71" stroke-width="0.8" />
<line x1="290.10" y1="783.50" x2="290.10" y2="785.50" stroke="#6d6e71" stroke-width="0.8" />
<text x="290.10" y="794.40" font-size="8.8" fill="#151515" stroke="#151515" stroke-width="0.12" text-anchor="middle">5</text>
<line x1="312.40" y1="783.50" x2="312.40" y2="785.50" stroke="#6d6e71" stroke-width="0.8" />
<text x="312.40" y="794.40" font-size="8.8" fill="#151515" stroke="#151515" stroke-width="0.12" text-anchor="middle">10</text>
<line x1="334.70" y1="783.50" x2="334.70" y2="785.50" stroke="#6d6e71" stroke-width="0.8" />
<text x="334.70" y="794.40" font-size="8.8" fill="#151515" stroke="#151515" stroke-width="0.12" text-anchor="middle">15</text>
<line x1="357.00" y1="783.50" x2="357.00" y2="785.50" stroke="#6d6e71" stroke-width="0.8" />
<text x="357.00" y="794.40" font-size="8.8" fill="#151515" stroke="#151515" stroke-width="0.12" text-anchor="middle">20</text>
<text x="323.50" y="804.40" font-size="8.8" fill="#151515" stroke="#151515" stroke-width="0.12" text-anchor="middle">Days</text>
<text transform="translate(269.70,748.00) rotate(-90)" font-size="8.9" fill="#151515" stroke="#151515" stroke-width="0.12" text-anchor="middle">Relative GFP<tspan font-size="5.5" dy="-3">+</tspan><tspan dy="3">%</tspan></text>
<polyline points="294.56,738.83 312.40,771.44 321.32,775.91 334.70,777.25 348.08,777.69" fill="none" stroke="#f5a94a" stroke-width="1.0" stroke-linejoin="round" />
<line x1="312.40" y1="769.21" x2="312.40" y2="773.67" stroke="#f5a94a" stroke-width="0.7" />
<line x1="310.90" y1="769.21" x2="313.90" y2="769.21" stroke="#f5a94a" stroke-width="0.7" />
<line x1="310.90" y1="773.67" x2="313.90" y2="773.67" stroke="#f5a94a" stroke-width="0.7" />
<line x1="321.32" y1="774.12" x2="321.32" y2="777.69" stroke="#f5a94a" stroke-width="0.7" />
<line x1="319.82" y1="774.12" x2="322.82" y2="774.12" stroke="#f5a94a" stroke-width="0.7" />
<line x1="319.82" y1="777.69" x2="322.82" y2="777.69" stroke="#f5a94a" stroke-width="0.7" />
<line x1="348.08" y1="768.76" x2="348.08" y2="786.63" stroke="#f5a94a" stroke-width="0.7" />
<line x1="346.58" y1="768.76" x2="349.58" y2="768.76" stroke="#f5a94a" stroke-width="0.7" />
<line x1="346.58" y1="786.63" x2="349.58" y2="786.63" stroke="#f5a94a" stroke-width="0.7" />
<circle cx="294.56" cy="738.83" r="1.5" fill="#f5a94a" />
<circle cx="312.40" cy="771.44" r="1.5" fill="#f5a94a" />
<circle cx="321.32" cy="775.91" r="1.5" fill="#f5a94a" />
<circle cx="334.70" cy="777.25" r="1.5" fill="#f5a94a" />
<circle cx="348.08" cy="777.69" r="1.5" fill="#f5a94a" />
<polyline points="294.56,738.83 312.40,767.87 321.32,772.78 334.70,777.69 348.08,777.25" fill="none" stroke="#266b46" stroke-width="1.0" stroke-linejoin="round" />
<line x1="312.40" y1="766.08" x2="312.40" y2="769.65" stroke="#266b46" stroke-width="0.7" />
<line x1="310.90" y1="766.08" x2="313.90" y2="766.08" stroke="#266b46" stroke-width="0.7" />
<line x1="310.90" y1="769.65" x2="313.90" y2="769.65" stroke="#266b46" stroke-width="0.7" />
<line x1="321.32" y1="771.44" x2="321.32" y2="774.12" stroke="#266b46" stroke-width="0.7" />
<line x1="319.82" y1="771.44" x2="322.82" y2="771.44" stroke="#266b46" stroke-width="0.7" />
<line x1="319.82" y1="774.12" x2="322.82" y2="774.12" stroke="#266b46" stroke-width="0.7" />
<line x1="334.70" y1="776.80" x2="334.70" y2="778.59" stroke="#266b46" stroke-width="0.7" />
<line x1="333.20" y1="776.80" x2="336.20" y2="776.80" stroke="#266b46" stroke-width="0.7" />
<line x1="333.20" y1="778.59" x2="336.20" y2="778.59" stroke="#266b46" stroke-width="0.7" />
<line x1="348.08" y1="775.46" x2="348.08" y2="779.03" stroke="#266b46" stroke-width="0.7" />
<line x1="346.58" y1="775.46" x2="349.58" y2="775.46" stroke="#266b46" stroke-width="0.7" />
<line x1="346.58" y1="779.03" x2="349.58" y2="779.03" stroke="#266b46" stroke-width="0.7" />
<circle cx="294.56" cy="738.83" r="1.5" fill="#266b46" />
<circle cx="312.40" cy="767.87" r="1.5" fill="#266b46" />
<circle cx="321.32" cy="772.78" r="1.5" fill="#266b46" />
<circle cx="334.70" cy="777.69" r="1.5" fill="#266b46" />
<circle cx="348.08" cy="777.25" r="1.5" fill="#266b46" />
<polyline points="294.56,738.83 312.40,758.80 321.32,766.21 334.70,772.69 348.08,776.80" fill="none" stroke="#e8452f" stroke-width="1.0" stroke-linejoin="round" />
<line x1="312.40" y1="756.12" x2="312.40" y2="761.48" stroke="#e8452f" stroke-width="0.7" />
<line x1="310.90" y1="756.12" x2="313.90" y2="756.12" stroke="#e8452f" stroke-width="0.7" />
<line x1="310.90" y1="761.48" x2="313.90" y2="761.48" stroke="#e8452f" stroke-width="0.7" />
<line x1="348.08" y1="775.01" x2="348.08" y2="778.59" stroke="#e8452f" stroke-width="0.7" />
<line x1="346.58" y1="775.01" x2="349.58" y2="775.01" stroke="#e8452f" stroke-width="0.7" />
<line x1="346.58" y1="778.59" x2="349.58" y2="778.59" stroke="#e8452f" stroke-width="0.7" />
<circle cx="294.56" cy="738.83" r="1.5" fill="#e8452f" />
<circle cx="312.40" cy="758.80" r="1.5" fill="#e8452f" />
<circle cx="321.32" cy="766.21" r="1.5" fill="#e8452f" />
<circle cx="334.70" cy="772.69" r="1.5" fill="#e8452f" />
<circle cx="348.08" cy="776.80" r="1.5" fill="#e8452f" />
<polyline points="294.56,738.83 312.40,735.84 321.32,736.60 334.70,734.81 348.08,734.37" fill="none" stroke="#3d70aa" stroke-width="1.0" stroke-linejoin="round" />
<circle cx="294.56" cy="738.83" r="1.5" fill="#3d70aa" />
<circle cx="312.40" cy="735.84" r="1.5" fill="#3d70aa" />
<circle cx="321.32" cy="736.60" r="1.5" fill="#3d70aa" />
<circle cx="334.70" cy="734.81" r="1.5" fill="#3d70aa" />
<circle cx="348.08" cy="734.37" r="1.5" fill="#3d70aa" />
<line x1="359.80" y1="736.40" x2="366.80" y2="736.40" stroke="#3d70aa" stroke-width="1.0" />
<circle cx="363.40" cy="736.40" r="1.4" fill="#3d70aa" />
<text x="371.30" y="739.20" font-size="7.8" fill="#151515" stroke="#151515" stroke-width="0.12">ev</text>
<line x1="359.80" y1="746.15" x2="366.80" y2="746.15" stroke="#e8452f" stroke-width="1.0" />
<circle cx="363.40" cy="746.15" r="1.4" fill="#e8452f" />
<text x="371.30" y="748.95" font-size="7.8" fill="#151515" stroke="#151515" stroke-width="0.12">sgKAT6A-2</text>
<line x1="359.80" y1="755.90" x2="366.80" y2="755.90" stroke="#266b46" stroke-width="1.0" />
<circle cx="363.40" cy="755.90" r="1.4" fill="#266b46" />
<text x="371.30" y="758.70" font-size="7.8" fill="#151515" stroke="#151515" stroke-width="0.12">sgKAT6A-2 + <tspan font-style="italic">KAT6A</tspan>-WT cDNA</text>
<line x1="359.80" y1="765.65" x2="366.80" y2="765.65" stroke="#f5a94a" stroke-width="1.0" />
<circle cx="363.40" cy="765.65" r="1.4" fill="#f5a94a" />
<text x="371.30" y="768.45" font-size="7.8" fill="#151515" stroke="#151515" stroke-width="0.12">sgKAT6A-2 + <tspan font-style="italic">KAT6A</tspan><tspan font-size="4.8" dy="-3">Q654E/G657E</tspan></text>
</svg>
</body></html>
